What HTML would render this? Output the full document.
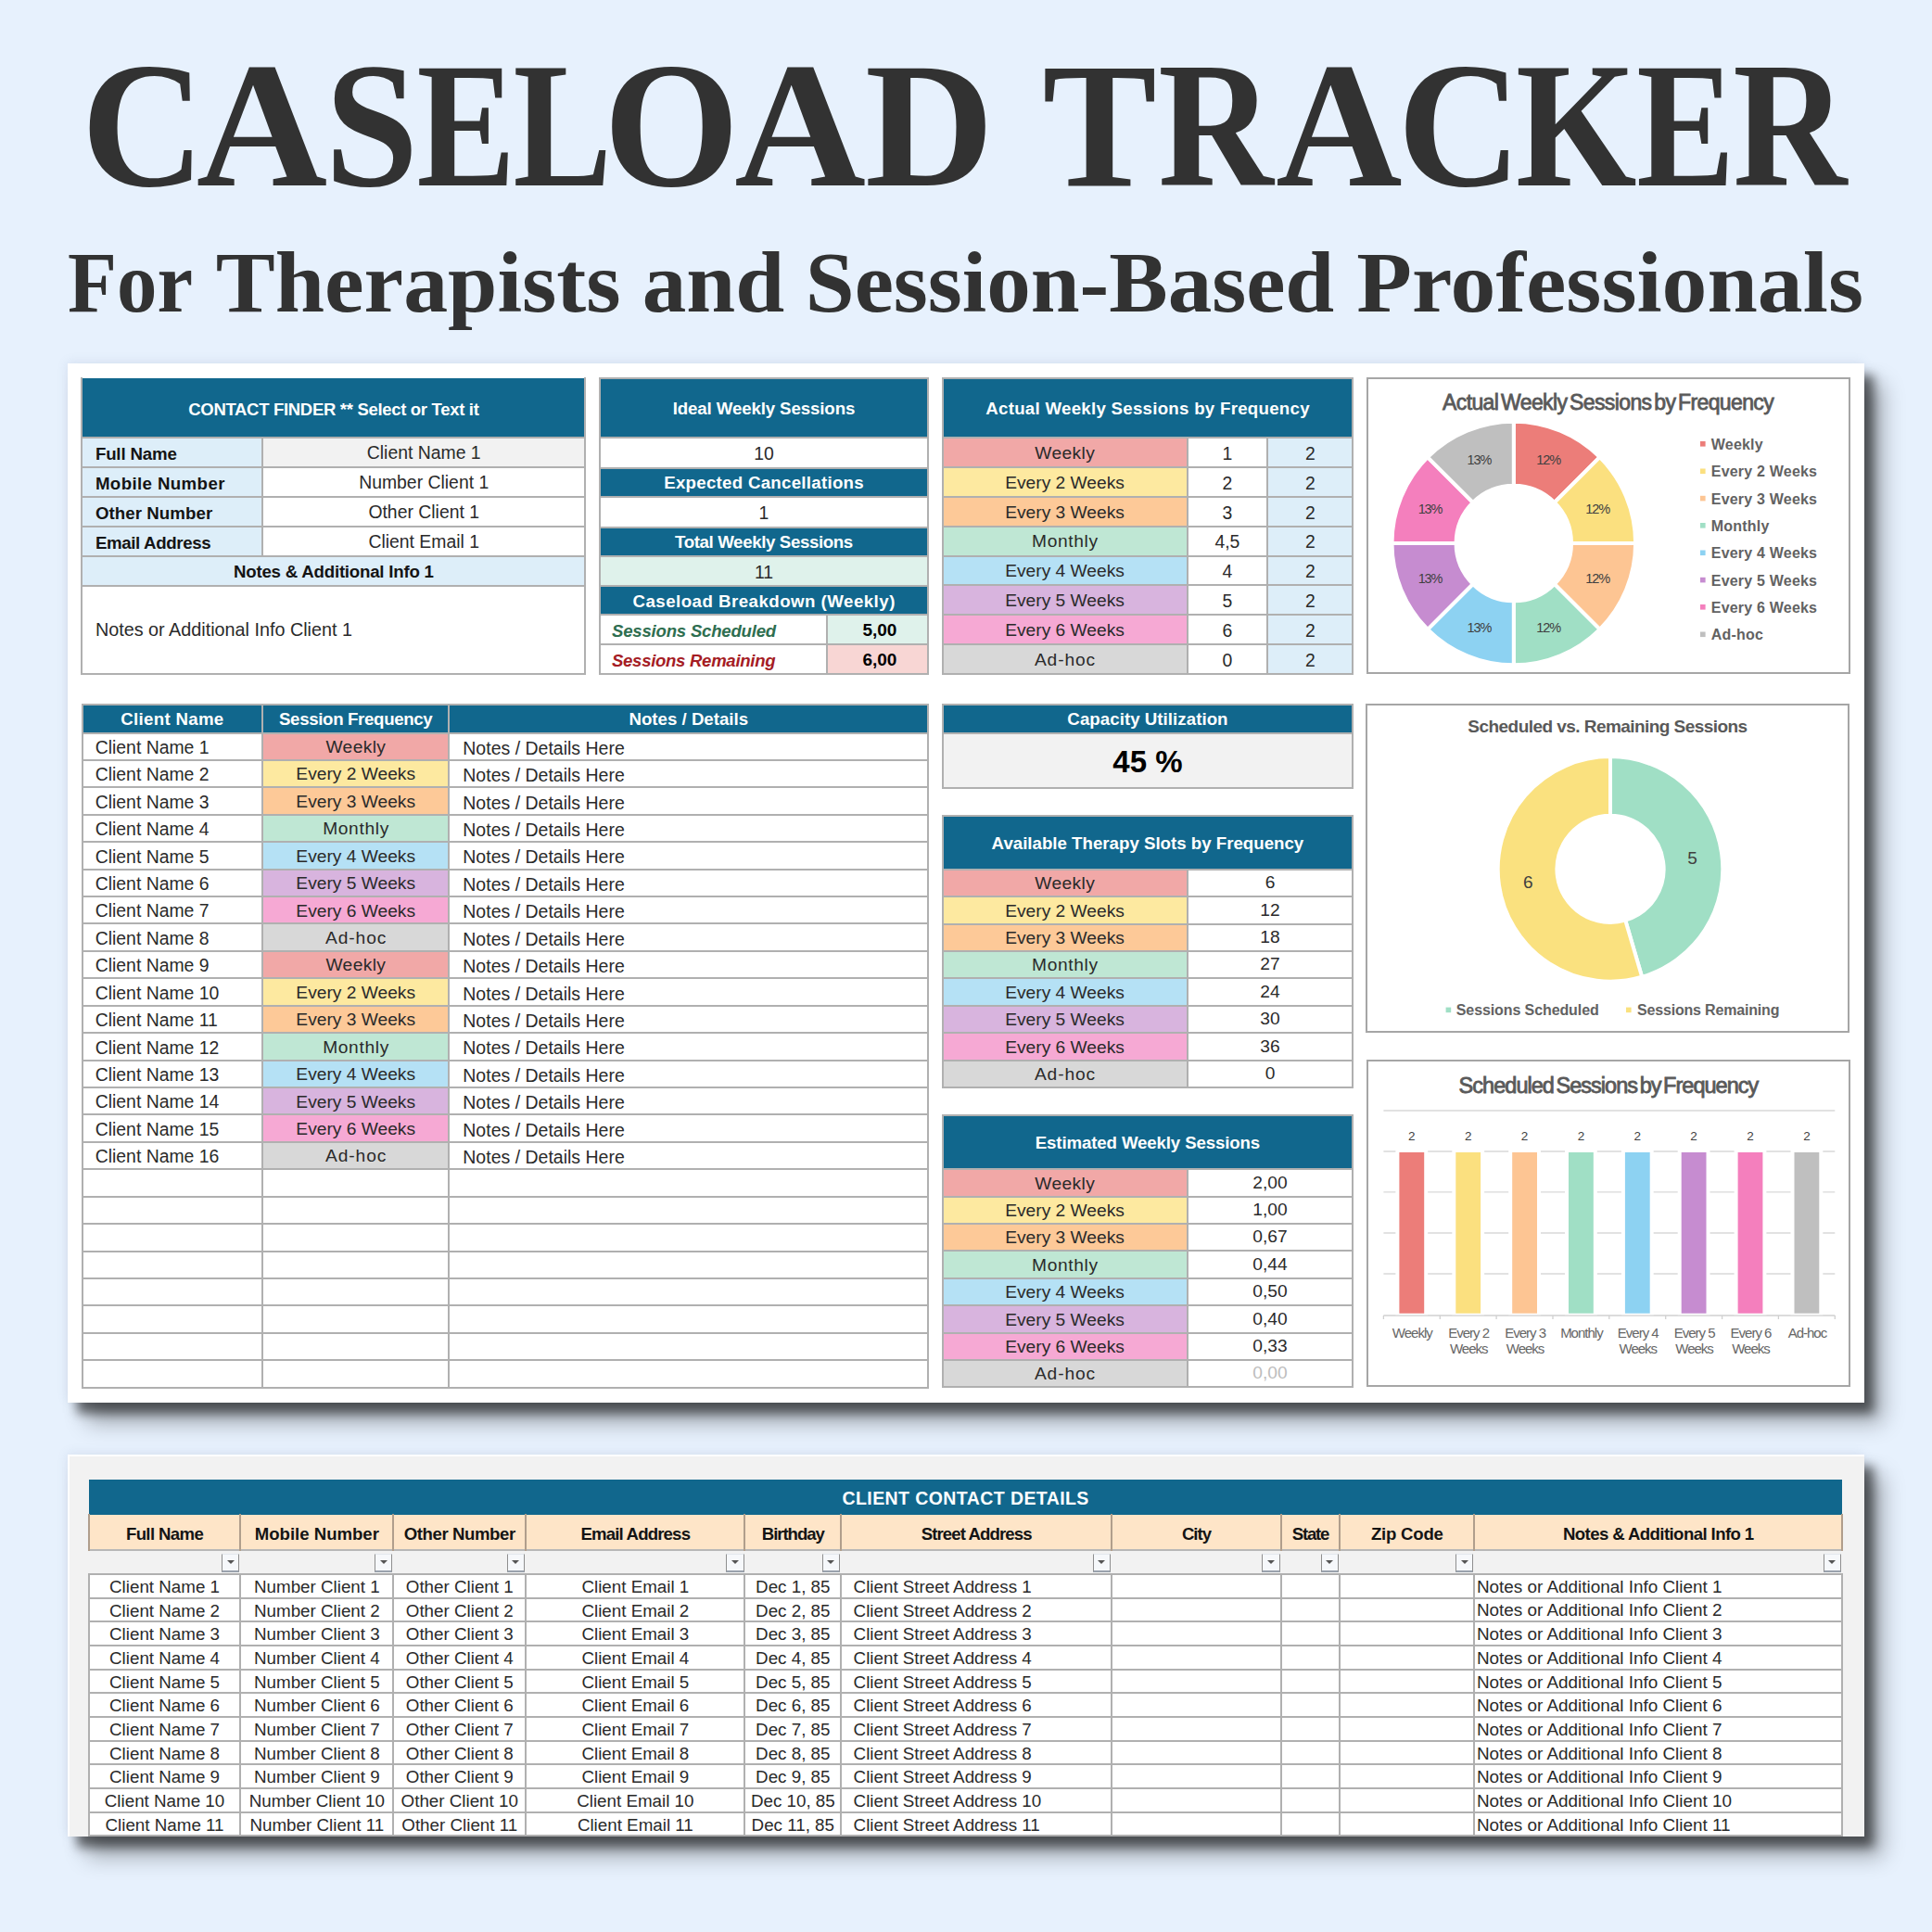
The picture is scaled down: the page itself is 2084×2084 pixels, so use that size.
<!DOCTYPE html><html><head><meta charset="utf-8"><style>
html,body{margin:0;padding:0;}
body{width:2084px;height:2084px;position:relative;overflow:hidden;background:#e7f1fd;font-family:"Liberation Sans", sans-serif;}
body div{position:absolute;box-sizing:border-box;}
.t{white-space:nowrap;overflow:visible;}
svg{position:absolute;left:0;top:0;}
</style></head><body>
<svg width="2084" height="380" style="left:0;top:0">
<g font-family="Liberation Serif, serif" font-weight="bold" fill="#323232">
<text transform="translate(87.69,200.2) scale(0.9581,1)" x="0" y="0" font-size="192">C</text>
<text transform="translate(211.86,200.2) scale(1.0199,1)" x="0" y="0" font-size="192">A</text>
<text transform="translate(350.38,200.2) scale(0.9434,1)" x="0" y="0" font-size="192">S</text>
<text transform="translate(449.56,200.2) scale(0.8312,1)" x="0" y="0" font-size="192">E</text>
<text transform="translate(553.46,200.2) scale(0.8312,1)" x="0" y="0" font-size="192">L</text>
<text transform="translate(650.99,200.2) scale(0.9801,1)" x="0" y="0" font-size="192">O</text>
<text transform="translate(792.36,200.2) scale(1.0222,1)" x="0" y="0" font-size="192">A</text>
<text transform="translate(932.89,200.2) scale(1.0032,1)" x="0" y="0" font-size="192">D</text>
<text transform="translate(1124.61,200.2) scale(0.9624,1)" x="0" y="0" font-size="192">T</text>
<text transform="translate(1249.14,200.2) scale(0.8971,1)" x="0" y="0" font-size="192">R</text>
<text transform="translate(1376.13,200.2) scale(0.9830,1)" x="0" y="0" font-size="192">A</text>
<text transform="translate(1507.46,200.2) scale(0.9616,1)" x="0" y="0" font-size="192">C</text>
<text transform="translate(1634.92,200.2) scale(0.8734,1)" x="0" y="0" font-size="192">K</text>
<text transform="translate(1765.27,200.2) scale(0.8268,1)" x="0" y="0" font-size="192">E</text>
<text transform="translate(1869.27,200.2) scale(0.8869,1)" x="0" y="0" font-size="192">R</text>
<text x="73.07" y="335.7" font-size="93" textLength="134.95" lengthAdjust="spacingAndGlyphs">For</text>
<text x="232.8" y="335.7" font-size="93" textLength="436.8" lengthAdjust="spacingAndGlyphs">Therapists</text>
<text x="692.78" y="335.7" font-size="93" textLength="153.45" lengthAdjust="spacingAndGlyphs">and</text>
<text x="868.8" y="335.7" font-size="93" textLength="570.41" lengthAdjust="spacingAndGlyphs">Session-Based</text>
<text x="1463.2" y="335.7" font-size="93" textLength="546.79" lengthAdjust="spacingAndGlyphs">Professionals</text>
</g></svg>
<div style="left:73.00px;top:392.00px;width:1938.00px;height:1121.00px;background:#ffffff;box-shadow: 10px 12.3px 11px rgba(0,0,0,0.54), 20px 22.4px 22px rgba(0,0,0,0.29), -1px -2px 10px rgba(110,120,160,0.12);"></div>
<div style="left:73.00px;top:1568.50px;width:1938.00px;height:412.50px;background:#f2f2f2;box-shadow: 10px 12.3px 11px rgba(0,0,0,0.54), 20px 22.4px 22px rgba(0,0,0,0.29), -1px -2px 10px rgba(110,120,160,0.12);border-top:2px solid #fff;border-left:2px solid #fff;"></div>
<div style="left:88.40px;top:408.00px;width:543.00px;height:64.40px;background:#11678d;"></div>
<div class="t" style="left:88.40px;top:428.75px;width:543.00px;height:25.90px;line-height:25.90px;font-size:18.5px;font-weight:bold;font-style:normal;color:#fff;text-align:center;padding-left:-0.312px;letter-spacing:-0.312px;font-family:"Liberation Sans", sans-serif;">CONTACT FINDER ** Select or Text it</div>
<div style="left:88.40px;top:472.40px;width:194.60px;height:31.60px;background:#ddeef9;"></div>
<div style="left:283.00px;top:472.40px;width:348.40px;height:31.60px;background:#f2f2f2;"></div>
<div class="t" style="left:88.40px;top:476.81px;width:194.60px;height:26.18px;line-height:26.18px;font-size:18.7px;font-weight:bold;font-style:normal;color:#141414;text-align:left;padding-left:14.5px;letter-spacing:-0.173px;font-family:"Liberation Sans", sans-serif;">Full Name</div>
<div class="t" style="left:283.00px;top:474.82px;width:348.40px;height:27.16px;line-height:27.16px;font-size:19.4px;font-weight:normal;font-style:normal;color:#2a2a2a;text-align:center;padding-left:0px;letter-spacing:0px;font-family:"Liberation Sans", sans-serif;">Client Name 1</div>
<div style="left:88.40px;top:504.00px;width:194.60px;height:32.30px;background:#ddeef9;"></div>
<div style="left:283.00px;top:504.00px;width:348.40px;height:32.30px;background:#ffffff;"></div>
<div class="t" style="left:88.40px;top:508.76px;width:194.60px;height:26.18px;line-height:26.18px;font-size:18.7px;font-weight:bold;font-style:normal;color:#141414;text-align:left;padding-left:14.5px;letter-spacing:0.383px;font-family:"Liberation Sans", sans-serif;">Mobile Number</div>
<div class="t" style="left:283.00px;top:506.77px;width:348.40px;height:27.16px;line-height:27.16px;font-size:19.4px;font-weight:normal;font-style:normal;color:#2a2a2a;text-align:center;padding-left:0px;letter-spacing:0px;font-family:"Liberation Sans", sans-serif;">Number Client 1</div>
<div style="left:88.40px;top:536.30px;width:194.60px;height:32.00px;background:#ddeef9;"></div>
<div style="left:283.00px;top:536.30px;width:348.40px;height:32.00px;background:#ffffff;"></div>
<div class="t" style="left:88.40px;top:540.91px;width:194.60px;height:26.18px;line-height:26.18px;font-size:18.7px;font-weight:bold;font-style:normal;color:#141414;text-align:left;padding-left:14.5px;letter-spacing:0.058px;font-family:"Liberation Sans", sans-serif;">Other Number</div>
<div class="t" style="left:283.00px;top:538.92px;width:348.40px;height:27.16px;line-height:27.16px;font-size:19.4px;font-weight:normal;font-style:normal;color:#2a2a2a;text-align:center;padding-left:0px;letter-spacing:0px;font-family:"Liberation Sans", sans-serif;">Other Client 1</div>
<div style="left:88.40px;top:568.30px;width:194.60px;height:31.70px;background:#ddeef9;"></div>
<div style="left:283.00px;top:568.30px;width:348.40px;height:31.70px;background:#ffffff;"></div>
<div class="t" style="left:88.40px;top:572.76px;width:194.60px;height:26.18px;line-height:26.18px;font-size:18.7px;font-weight:bold;font-style:normal;color:#141414;text-align:left;padding-left:14.5px;letter-spacing:-0.368px;font-family:"Liberation Sans", sans-serif;">Email Address</div>
<div class="t" style="left:283.00px;top:570.77px;width:348.40px;height:27.16px;line-height:27.16px;font-size:19.4px;font-weight:normal;font-style:normal;color:#2a2a2a;text-align:center;padding-left:0px;letter-spacing:0px;font-family:"Liberation Sans", sans-serif;">Client Email 1</div>
<div style="left:88.40px;top:600.00px;width:543.00px;height:31.80px;background:#ddeef9;"></div>
<div class="t" style="left:88.40px;top:604.01px;width:543.00px;height:26.18px;line-height:26.18px;font-size:18.7px;font-weight:bold;font-style:normal;color:#141414;text-align:center;padding-left:-0.229px;letter-spacing:-0.229px;font-family:"Liberation Sans", sans-serif;">Notes &amp; Additional Info 1</div>
<div style="left:88.40px;top:631.80px;width:543.00px;height:95.20px;background:#ffffff;"></div>
<div class="t" style="left:88.40px;top:666.34px;width:543.00px;height:27.72px;line-height:27.72px;font-size:19.8px;font-weight:normal;font-style:normal;color:#2a2a2a;text-align:left;padding-left:14.5px;letter-spacing:0px;font-family:"Liberation Sans", sans-serif;">Notes or Additional Info Client 1</div>
<div style="left:87px;top:471px;width:545px;height:2px;background:#b0b0b0"></div>
<div style="left:87px;top:503px;width:545px;height:2px;background:#b0b0b0"></div>
<div style="left:87px;top:535px;width:545px;height:2px;background:#b0b0b0"></div>
<div style="left:87px;top:567px;width:545px;height:2px;background:#b0b0b0"></div>
<div style="left:87px;top:599px;width:545px;height:2px;background:#b0b0b0"></div>
<div style="left:87px;top:631px;width:545px;height:2px;background:#b0b0b0"></div>
<div style="left:87px;top:726px;width:545px;height:2px;background:#b0b0b0"></div>
<div style="left:87px;top:407px;width:2px;height:321px;background:#b0b0b0"></div>
<div style="left:630px;top:407px;width:2px;height:321px;background:#b0b0b0"></div>
<div style="left:282px;top:471px;width:2px;height:130px;background:#b0b0b0"></div>
<div style="left:646.50px;top:408.00px;width:354.90px;height:64.40px;background:#11678d;"></div>
<div class="t" style="left:646.50px;top:428.31px;width:354.90px;height:26.18px;line-height:26.18px;font-size:18.7px;font-weight:bold;font-style:normal;color:#fff;text-align:center;padding-left:-0.122px;letter-spacing:-0.122px;font-family:"Liberation Sans", sans-serif;">Ideal Weekly Sessions</div>
<div style="left:646.50px;top:472.40px;width:354.90px;height:32.10px;background:#ffffff;"></div>
<div class="t" style="left:646.50px;top:476.07px;width:354.90px;height:27.16px;line-height:27.16px;font-size:19.4px;font-weight:normal;font-style:normal;color:#2a2a2a;text-align:center;padding-left:0px;letter-spacing:0px;font-family:"Liberation Sans", sans-serif;">10</div>
<div style="left:646.50px;top:504.50px;width:354.90px;height:31.20px;background:#11678d;"></div>
<div class="t" style="left:646.50px;top:508.21px;width:354.90px;height:26.18px;line-height:26.18px;font-size:18.7px;font-weight:bold;font-style:normal;color:#fff;text-align:center;padding-left:0.271px;letter-spacing:0.271px;font-family:"Liberation Sans", sans-serif;">Expected Cancellations</div>
<div style="left:646.50px;top:535.70px;width:354.90px;height:32.90px;background:#ffffff;"></div>
<div class="t" style="left:646.50px;top:539.77px;width:354.90px;height:27.16px;line-height:27.16px;font-size:19.4px;font-weight:normal;font-style:normal;color:#2a2a2a;text-align:center;padding-left:0px;letter-spacing:0px;font-family:"Liberation Sans", sans-serif;">1</div>
<div style="left:646.50px;top:568.60px;width:354.90px;height:31.40px;background:#11678d;"></div>
<div class="t" style="left:646.50px;top:572.41px;width:354.90px;height:26.18px;line-height:26.18px;font-size:18.7px;font-weight:bold;font-style:normal;color:#fff;text-align:center;padding-left:-0.375px;letter-spacing:-0.375px;font-family:"Liberation Sans", sans-serif;">Total Weekly Sessions</div>
<div style="left:646.50px;top:600.00px;width:354.90px;height:32.00px;background:#dff2eb;"></div>
<div class="t" style="left:646.50px;top:603.62px;width:354.90px;height:27.16px;line-height:27.16px;font-size:19.4px;font-weight:normal;font-style:normal;color:#2a2a2a;text-align:center;padding-left:0px;letter-spacing:0px;font-family:"Liberation Sans", sans-serif;">11</div>
<div style="left:646.50px;top:632.00px;width:354.90px;height:31.50px;background:#11678d;"></div>
<div class="t" style="left:646.50px;top:635.86px;width:354.90px;height:26.18px;line-height:26.18px;font-size:18.7px;font-weight:bold;font-style:normal;color:#fff;text-align:center;padding-left:0.467px;letter-spacing:0.467px;font-family:"Liberation Sans", sans-serif;">Caseload Breakdown (Weekly)</div>
<div style="left:646px;top:407px;width:356px;height:2px;background:#b0b0b0"></div>
<div style="left:646px;top:471px;width:356px;height:2px;background:#b0b0b0"></div>
<div style="left:646px;top:504px;width:356px;height:2px;background:#b0b0b0"></div>
<div style="left:646px;top:535px;width:356px;height:2px;background:#b0b0b0"></div>
<div style="left:646px;top:568px;width:356px;height:2px;background:#b0b0b0"></div>
<div style="left:646px;top:599px;width:356px;height:2px;background:#b0b0b0"></div>
<div style="left:646px;top:631px;width:356px;height:2px;background:#b0b0b0"></div>
<div style="left:646px;top:662px;width:356px;height:2px;background:#b0b0b0"></div>
<div style="left:646px;top:694px;width:356px;height:2px;background:#b0b0b0"></div>
<div style="left:646px;top:726px;width:356px;height:2px;background:#b0b0b0"></div>
<div style="left:646.50px;top:663.50px;width:245.90px;height:31.50px;background:#ffffff;"></div>
<div style="left:892.40px;top:663.50px;width:109.00px;height:31.50px;background:#dff2eb;"></div>
<div style="left:646.50px;top:695.00px;width:245.90px;height:32.00px;background:#ffffff;"></div>
<div style="left:892.40px;top:695.00px;width:109.00px;height:32.00px;background:#f8d6d4;"></div>
<div class="t" style="left:646.50px;top:667.68px;width:245.90px;height:26.04px;line-height:26.04px;font-size:18.6px;font-weight:bold;font-style:italic;color:#2e6e50;text-align:left;padding-left:13.5px;letter-spacing:-0.215px;font-family:"Liberation Sans", sans-serif;">Sessions Scheduled</div>
<div class="t" style="left:646.50px;top:699.68px;width:245.90px;height:26.04px;line-height:26.04px;font-size:18.6px;font-weight:bold;font-style:italic;color:#a51c24;text-align:left;padding-left:13.5px;letter-spacing:-0.312px;font-family:"Liberation Sans", sans-serif;">Sessions Remaining</div>
<div class="t" style="left:892.40px;top:667.40px;width:109.00px;height:26.60px;line-height:26.60px;font-size:19px;font-weight:bold;font-style:normal;color:#000;text-align:left;padding-left:38px;letter-spacing:0px;font-family:"Liberation Sans", sans-serif;">5,00</div>
<div class="t" style="left:892.40px;top:699.40px;width:109.00px;height:26.60px;line-height:26.60px;font-size:19px;font-weight:bold;font-style:normal;color:#000;text-align:left;padding-left:38px;letter-spacing:0px;font-family:"Liberation Sans", sans-serif;">6,00</div>
<div style="left:646px;top:407px;width:356px;height:2px;background:#b0b0b0"></div>
<div style="left:646px;top:471px;width:356px;height:2px;background:#b0b0b0"></div>
<div style="left:646px;top:504px;width:356px;height:2px;background:#b0b0b0"></div>
<div style="left:646px;top:535px;width:356px;height:2px;background:#b0b0b0"></div>
<div style="left:646px;top:568px;width:356px;height:2px;background:#b0b0b0"></div>
<div style="left:646px;top:599px;width:356px;height:2px;background:#b0b0b0"></div>
<div style="left:646px;top:631px;width:356px;height:2px;background:#b0b0b0"></div>
<div style="left:646px;top:662px;width:356px;height:2px;background:#b0b0b0"></div>
<div style="left:646px;top:694px;width:356px;height:2px;background:#b0b0b0"></div>
<div style="left:646px;top:726px;width:356px;height:2px;background:#b0b0b0"></div>
<div style="left:646px;top:407px;width:2px;height:321px;background:#b0b0b0"></div>
<div style="left:1000px;top:407px;width:2px;height:321px;background:#b0b0b0"></div>
<div style="left:891px;top:662px;width:2px;height:66px;background:#b0b0b0"></div>
<div style="left:1016.50px;top:408.00px;width:442.90px;height:64.30px;background:#11678d;"></div>
<div class="t" style="left:1016.50px;top:428.11px;width:442.90px;height:26.18px;line-height:26.18px;font-size:18.7px;font-weight:bold;font-style:normal;color:#fff;text-align:center;padding-left:0.264px;letter-spacing:0.264px;font-family:"Liberation Sans", sans-serif;">Actual Weekly Sessions by Frequency</div>
<div style="left:1016.50px;top:472.30px;width:264.10px;height:31.84px;background:#f1a8a7;"></div>
<div style="left:1280.60px;top:472.30px;width:86.60px;height:31.84px;background:#ffffff;"></div>
<div style="left:1367.20px;top:472.30px;width:92.20px;height:31.84px;background:#ddeef9;"></div>
<div class="t" style="left:1016.50px;top:475.98px;width:264.10px;height:26.88px;line-height:26.88px;font-size:19.2px;font-weight:normal;font-style:normal;color:#2a2a2a;text-align:center;padding-left:0.4px;letter-spacing:0.4px;font-family:"Liberation Sans", sans-serif;">Weekly</div>
<div class="t" style="left:1280.60px;top:475.84px;width:86.60px;height:27.16px;line-height:27.16px;font-size:19.4px;font-weight:normal;font-style:normal;color:#2a2a2a;text-align:center;padding-left:0px;letter-spacing:0px;font-family:"Liberation Sans", sans-serif;">1</div>
<div class="t" style="left:1367.20px;top:475.84px;width:92.20px;height:27.16px;line-height:27.16px;font-size:19.4px;font-weight:normal;font-style:normal;color:#2a2a2a;text-align:center;padding-left:0px;letter-spacing:0px;font-family:"Liberation Sans", sans-serif;">2</div>
<div style="left:1016.50px;top:504.14px;width:264.10px;height:31.84px;background:#fde9a0;"></div>
<div style="left:1280.60px;top:504.14px;width:86.60px;height:31.84px;background:#ffffff;"></div>
<div style="left:1367.20px;top:504.14px;width:92.20px;height:31.84px;background:#ddeef9;"></div>
<div class="t" style="left:1016.50px;top:507.82px;width:264.10px;height:26.88px;line-height:26.88px;font-size:19.2px;font-weight:normal;font-style:normal;color:#2a2a2a;text-align:center;padding-left:0px;letter-spacing:0px;font-family:"Liberation Sans", sans-serif;">Every 2 Weeks</div>
<div class="t" style="left:1280.60px;top:507.68px;width:86.60px;height:27.16px;line-height:27.16px;font-size:19.4px;font-weight:normal;font-style:normal;color:#2a2a2a;text-align:center;padding-left:0px;letter-spacing:0px;font-family:"Liberation Sans", sans-serif;">2</div>
<div class="t" style="left:1367.20px;top:507.68px;width:92.20px;height:27.16px;line-height:27.16px;font-size:19.4px;font-weight:normal;font-style:normal;color:#2a2a2a;text-align:center;padding-left:0px;letter-spacing:0px;font-family:"Liberation Sans", sans-serif;">2</div>
<div style="left:1016.50px;top:535.98px;width:264.10px;height:31.84px;background:#fdc998;"></div>
<div style="left:1280.60px;top:535.98px;width:86.60px;height:31.84px;background:#ffffff;"></div>
<div style="left:1367.20px;top:535.98px;width:92.20px;height:31.84px;background:#ddeef9;"></div>
<div class="t" style="left:1016.50px;top:539.65px;width:264.10px;height:26.88px;line-height:26.88px;font-size:19.2px;font-weight:normal;font-style:normal;color:#2a2a2a;text-align:center;padding-left:0px;letter-spacing:0px;font-family:"Liberation Sans", sans-serif;">Every 3 Weeks</div>
<div class="t" style="left:1280.60px;top:539.51px;width:86.60px;height:27.16px;line-height:27.16px;font-size:19.4px;font-weight:normal;font-style:normal;color:#2a2a2a;text-align:center;padding-left:0px;letter-spacing:0px;font-family:"Liberation Sans", sans-serif;">3</div>
<div class="t" style="left:1367.20px;top:539.51px;width:92.20px;height:27.16px;line-height:27.16px;font-size:19.4px;font-weight:normal;font-style:normal;color:#2a2a2a;text-align:center;padding-left:0px;letter-spacing:0px;font-family:"Liberation Sans", sans-serif;">2</div>
<div style="left:1016.50px;top:567.81px;width:264.10px;height:31.84px;background:#bfe7d4;"></div>
<div style="left:1280.60px;top:567.81px;width:86.60px;height:31.84px;background:#ffffff;"></div>
<div style="left:1367.20px;top:567.81px;width:92.20px;height:31.84px;background:#ddeef9;"></div>
<div class="t" style="left:1016.50px;top:571.49px;width:264.10px;height:26.88px;line-height:26.88px;font-size:19.2px;font-weight:normal;font-style:normal;color:#2a2a2a;text-align:center;padding-left:0.65px;letter-spacing:0.65px;font-family:"Liberation Sans", sans-serif;">Monthly</div>
<div class="t" style="left:1280.60px;top:571.35px;width:86.60px;height:27.16px;line-height:27.16px;font-size:19.4px;font-weight:normal;font-style:normal;color:#2a2a2a;text-align:center;padding-left:0px;letter-spacing:0px;font-family:"Liberation Sans", sans-serif;">4,5</div>
<div class="t" style="left:1367.20px;top:571.35px;width:92.20px;height:27.16px;line-height:27.16px;font-size:19.4px;font-weight:normal;font-style:normal;color:#2a2a2a;text-align:center;padding-left:0px;letter-spacing:0px;font-family:"Liberation Sans", sans-serif;">2</div>
<div style="left:1016.50px;top:599.65px;width:264.10px;height:31.84px;background:#b5e1f5;"></div>
<div style="left:1280.60px;top:599.65px;width:86.60px;height:31.84px;background:#ffffff;"></div>
<div style="left:1367.20px;top:599.65px;width:92.20px;height:31.84px;background:#ddeef9;"></div>
<div class="t" style="left:1016.50px;top:603.33px;width:264.10px;height:26.88px;line-height:26.88px;font-size:19.2px;font-weight:normal;font-style:normal;color:#2a2a2a;text-align:center;padding-left:0px;letter-spacing:0px;font-family:"Liberation Sans", sans-serif;">Every 4 Weeks</div>
<div class="t" style="left:1280.60px;top:603.19px;width:86.60px;height:27.16px;line-height:27.16px;font-size:19.4px;font-weight:normal;font-style:normal;color:#2a2a2a;text-align:center;padding-left:0px;letter-spacing:0px;font-family:"Liberation Sans", sans-serif;">4</div>
<div class="t" style="left:1367.20px;top:603.19px;width:92.20px;height:27.16px;line-height:27.16px;font-size:19.4px;font-weight:normal;font-style:normal;color:#2a2a2a;text-align:center;padding-left:0px;letter-spacing:0px;font-family:"Liberation Sans", sans-serif;">2</div>
<div style="left:1016.50px;top:631.49px;width:264.10px;height:31.84px;background:#d8b4de;"></div>
<div style="left:1280.60px;top:631.49px;width:86.60px;height:31.84px;background:#ffffff;"></div>
<div style="left:1367.20px;top:631.49px;width:92.20px;height:31.84px;background:#ddeef9;"></div>
<div class="t" style="left:1016.50px;top:635.17px;width:264.10px;height:26.88px;line-height:26.88px;font-size:19.2px;font-weight:normal;font-style:normal;color:#2a2a2a;text-align:center;padding-left:0px;letter-spacing:0px;font-family:"Liberation Sans", sans-serif;">Every 5 Weeks</div>
<div class="t" style="left:1280.60px;top:635.03px;width:86.60px;height:27.16px;line-height:27.16px;font-size:19.4px;font-weight:normal;font-style:normal;color:#2a2a2a;text-align:center;padding-left:0px;letter-spacing:0px;font-family:"Liberation Sans", sans-serif;">5</div>
<div class="t" style="left:1367.20px;top:635.03px;width:92.20px;height:27.16px;line-height:27.16px;font-size:19.4px;font-weight:normal;font-style:normal;color:#2a2a2a;text-align:center;padding-left:0px;letter-spacing:0px;font-family:"Liberation Sans", sans-serif;">2</div>
<div style="left:1016.50px;top:663.33px;width:264.10px;height:31.84px;background:#f6a9d4;"></div>
<div style="left:1280.60px;top:663.33px;width:86.60px;height:31.84px;background:#ffffff;"></div>
<div style="left:1367.20px;top:663.33px;width:92.20px;height:31.84px;background:#ddeef9;"></div>
<div class="t" style="left:1016.50px;top:667.00px;width:264.10px;height:26.88px;line-height:26.88px;font-size:19.2px;font-weight:normal;font-style:normal;color:#2a2a2a;text-align:center;padding-left:0px;letter-spacing:0px;font-family:"Liberation Sans", sans-serif;">Every 6 Weeks</div>
<div class="t" style="left:1280.60px;top:666.86px;width:86.60px;height:27.16px;line-height:27.16px;font-size:19.4px;font-weight:normal;font-style:normal;color:#2a2a2a;text-align:center;padding-left:0px;letter-spacing:0px;font-family:"Liberation Sans", sans-serif;">6</div>
<div class="t" style="left:1367.20px;top:666.86px;width:92.20px;height:27.16px;line-height:27.16px;font-size:19.4px;font-weight:normal;font-style:normal;color:#2a2a2a;text-align:center;padding-left:0px;letter-spacing:0px;font-family:"Liberation Sans", sans-serif;">2</div>
<div style="left:1016.50px;top:695.16px;width:264.10px;height:31.84px;background:#d8d8d8;"></div>
<div style="left:1280.60px;top:695.16px;width:86.60px;height:31.84px;background:#ffffff;"></div>
<div style="left:1367.20px;top:695.16px;width:92.20px;height:31.84px;background:#ddeef9;"></div>
<div class="t" style="left:1016.50px;top:698.84px;width:264.10px;height:26.88px;line-height:26.88px;font-size:19.2px;font-weight:normal;font-style:normal;color:#2a2a2a;text-align:center;padding-left:0.9px;letter-spacing:0.9px;font-family:"Liberation Sans", sans-serif;">Ad-hoc</div>
<div class="t" style="left:1280.60px;top:698.70px;width:86.60px;height:27.16px;line-height:27.16px;font-size:19.4px;font-weight:normal;font-style:normal;color:#2a2a2a;text-align:center;padding-left:0px;letter-spacing:0px;font-family:"Liberation Sans", sans-serif;">0</div>
<div class="t" style="left:1367.20px;top:698.70px;width:92.20px;height:27.16px;line-height:27.16px;font-size:19.4px;font-weight:normal;font-style:normal;color:#2a2a2a;text-align:center;padding-left:0px;letter-spacing:0px;font-family:"Liberation Sans", sans-serif;">2</div>
<div style="left:1016px;top:471px;width:444px;height:2px;background:#b0b0b0"></div>
<div style="left:1016px;top:503px;width:444px;height:2px;background:#b0b0b0"></div>
<div style="left:1016px;top:535px;width:444px;height:2px;background:#b0b0b0"></div>
<div style="left:1016px;top:567px;width:444px;height:2px;background:#b0b0b0"></div>
<div style="left:1016px;top:599px;width:444px;height:2px;background:#b0b0b0"></div>
<div style="left:1016px;top:630px;width:444px;height:2px;background:#b0b0b0"></div>
<div style="left:1016px;top:662px;width:444px;height:2px;background:#b0b0b0"></div>
<div style="left:1016px;top:694px;width:444px;height:2px;background:#b0b0b0"></div>
<div style="left:1016px;top:726px;width:444px;height:2px;background:#b0b0b0"></div>
<div style="left:1016px;top:407px;width:444px;height:2px;background:#b0b0b0"></div>
<div style="left:1016px;top:407px;width:2px;height:321px;background:#b0b0b0"></div>
<div style="left:1458px;top:407px;width:2px;height:321px;background:#b0b0b0"></div>
<div style="left:1280px;top:471px;width:2px;height:257px;background:#b0b0b0"></div>
<div style="left:1366px;top:471px;width:2px;height:257px;background:#b0b0b0"></div>
<div style="left:88.50px;top:759.70px;width:912.70px;height:30.80px;background:#11678d;"></div>
<div class="t" style="left:88.50px;top:763.11px;width:194.50px;height:26.18px;line-height:26.18px;font-size:18.7px;font-weight:bold;font-style:normal;color:#fff;text-align:center;padding-left:0.291px;letter-spacing:0.291px;font-family:"Liberation Sans", sans-serif;">Client Name</div>
<div class="t" style="left:283.00px;top:763.11px;width:201.40px;height:26.18px;line-height:26.18px;font-size:18.7px;font-weight:bold;font-style:normal;color:#fff;text-align:center;padding-left:-0.349px;letter-spacing:-0.349px;font-family:"Liberation Sans", sans-serif;">Session Frequency</div>
<div class="t" style="left:484.40px;top:763.11px;width:516.80px;height:26.18px;line-height:26.18px;font-size:18.7px;font-weight:bold;font-style:normal;color:#fff;text-align:center;padding-left:-0.01px;letter-spacing:-0.01px;font-family:"Liberation Sans", sans-serif;">Notes / Details</div>
<div style="left:88.50px;top:790.50px;width:912.70px;height:29.42px;background:#ffffff;"></div>
<div style="left:283.00px;top:790.50px;width:201.40px;height:29.42px;background:#f1a8a7;"></div>
<div class="t" style="left:88.50px;top:792.83px;width:194.50px;height:27.16px;line-height:27.16px;font-size:19.4px;font-weight:normal;font-style:normal;color:#2a2a2a;text-align:left;padding-left:14.2px;letter-spacing:0px;font-family:"Liberation Sans", sans-serif;">Client Name 1</div>
<div class="t" style="left:283.00px;top:792.97px;width:201.40px;height:26.88px;line-height:26.88px;font-size:19.2px;font-weight:normal;font-style:normal;color:#2a2a2a;text-align:center;padding-left:0.4px;letter-spacing:0.4px;font-family:"Liberation Sans", sans-serif;">Weekly</div>
<div class="t" style="left:484.40px;top:793.76px;width:516.80px;height:27.30px;line-height:27.30px;font-size:19.5px;font-weight:normal;font-style:normal;color:#2a2a2a;text-align:left;padding-left:14.9px;letter-spacing:0px;font-family:"Liberation Sans", sans-serif;">Notes / Details Here</div>
<div style="left:88.50px;top:819.92px;width:912.70px;height:29.42px;background:#ffffff;"></div>
<div style="left:283.00px;top:819.92px;width:201.40px;height:29.42px;background:#fde9a0;"></div>
<div class="t" style="left:88.50px;top:822.26px;width:194.50px;height:27.16px;line-height:27.16px;font-size:19.4px;font-weight:normal;font-style:normal;color:#2a2a2a;text-align:left;padding-left:14.2px;letter-spacing:0px;font-family:"Liberation Sans", sans-serif;">Client Name 2</div>
<div class="t" style="left:283.00px;top:822.40px;width:201.40px;height:26.88px;line-height:26.88px;font-size:19.2px;font-weight:normal;font-style:normal;color:#2a2a2a;text-align:center;padding-left:0px;letter-spacing:0px;font-family:"Liberation Sans", sans-serif;">Every 2 Weeks</div>
<div class="t" style="left:484.40px;top:823.19px;width:516.80px;height:27.30px;line-height:27.30px;font-size:19.5px;font-weight:normal;font-style:normal;color:#2a2a2a;text-align:left;padding-left:14.9px;letter-spacing:0px;font-family:"Liberation Sans", sans-serif;">Notes / Details Here</div>
<div style="left:88.50px;top:849.35px;width:912.70px;height:29.42px;background:#ffffff;"></div>
<div style="left:283.00px;top:849.35px;width:201.40px;height:29.42px;background:#fdc998;"></div>
<div class="t" style="left:88.50px;top:851.68px;width:194.50px;height:27.16px;line-height:27.16px;font-size:19.4px;font-weight:normal;font-style:normal;color:#2a2a2a;text-align:left;padding-left:14.2px;letter-spacing:0px;font-family:"Liberation Sans", sans-serif;">Client Name 3</div>
<div class="t" style="left:283.00px;top:851.82px;width:201.40px;height:26.88px;line-height:26.88px;font-size:19.2px;font-weight:normal;font-style:normal;color:#2a2a2a;text-align:center;padding-left:0px;letter-spacing:0px;font-family:"Liberation Sans", sans-serif;">Every 3 Weeks</div>
<div class="t" style="left:484.40px;top:852.61px;width:516.80px;height:27.30px;line-height:27.30px;font-size:19.5px;font-weight:normal;font-style:normal;color:#2a2a2a;text-align:left;padding-left:14.9px;letter-spacing:0px;font-family:"Liberation Sans", sans-serif;">Notes / Details Here</div>
<div style="left:88.50px;top:878.77px;width:912.70px;height:29.42px;background:#ffffff;"></div>
<div style="left:283.00px;top:878.77px;width:201.40px;height:29.42px;background:#bfe7d4;"></div>
<div class="t" style="left:88.50px;top:881.11px;width:194.50px;height:27.16px;line-height:27.16px;font-size:19.4px;font-weight:normal;font-style:normal;color:#2a2a2a;text-align:left;padding-left:14.2px;letter-spacing:0px;font-family:"Liberation Sans", sans-serif;">Client Name 4</div>
<div class="t" style="left:283.00px;top:881.25px;width:201.40px;height:26.88px;line-height:26.88px;font-size:19.2px;font-weight:normal;font-style:normal;color:#2a2a2a;text-align:center;padding-left:0.65px;letter-spacing:0.65px;font-family:"Liberation Sans", sans-serif;">Monthly</div>
<div class="t" style="left:484.40px;top:882.04px;width:516.80px;height:27.30px;line-height:27.30px;font-size:19.5px;font-weight:normal;font-style:normal;color:#2a2a2a;text-align:left;padding-left:14.9px;letter-spacing:0px;font-family:"Liberation Sans", sans-serif;">Notes / Details Here</div>
<div style="left:88.50px;top:908.20px;width:912.70px;height:29.42px;background:#ffffff;"></div>
<div style="left:283.00px;top:908.20px;width:201.40px;height:29.42px;background:#b5e1f5;"></div>
<div class="t" style="left:88.50px;top:910.53px;width:194.50px;height:27.16px;line-height:27.16px;font-size:19.4px;font-weight:normal;font-style:normal;color:#2a2a2a;text-align:left;padding-left:14.2px;letter-spacing:0px;font-family:"Liberation Sans", sans-serif;">Client Name 5</div>
<div class="t" style="left:283.00px;top:910.67px;width:201.40px;height:26.88px;line-height:26.88px;font-size:19.2px;font-weight:normal;font-style:normal;color:#2a2a2a;text-align:center;padding-left:0px;letter-spacing:0px;font-family:"Liberation Sans", sans-serif;">Every 4 Weeks</div>
<div class="t" style="left:484.40px;top:911.46px;width:516.80px;height:27.30px;line-height:27.30px;font-size:19.5px;font-weight:normal;font-style:normal;color:#2a2a2a;text-align:left;padding-left:14.9px;letter-spacing:0px;font-family:"Liberation Sans", sans-serif;">Notes / Details Here</div>
<div style="left:88.50px;top:937.62px;width:912.70px;height:29.42px;background:#ffffff;"></div>
<div style="left:283.00px;top:937.62px;width:201.40px;height:29.42px;background:#d8b4de;"></div>
<div class="t" style="left:88.50px;top:939.96px;width:194.50px;height:27.16px;line-height:27.16px;font-size:19.4px;font-weight:normal;font-style:normal;color:#2a2a2a;text-align:left;padding-left:14.2px;letter-spacing:0px;font-family:"Liberation Sans", sans-serif;">Client Name 6</div>
<div class="t" style="left:283.00px;top:940.10px;width:201.40px;height:26.88px;line-height:26.88px;font-size:19.2px;font-weight:normal;font-style:normal;color:#2a2a2a;text-align:center;padding-left:0px;letter-spacing:0px;font-family:"Liberation Sans", sans-serif;">Every 5 Weeks</div>
<div class="t" style="left:484.40px;top:940.89px;width:516.80px;height:27.30px;line-height:27.30px;font-size:19.5px;font-weight:normal;font-style:normal;color:#2a2a2a;text-align:left;padding-left:14.9px;letter-spacing:0px;font-family:"Liberation Sans", sans-serif;">Notes / Details Here</div>
<div style="left:88.50px;top:967.05px;width:912.70px;height:29.42px;background:#ffffff;"></div>
<div style="left:283.00px;top:967.05px;width:201.40px;height:29.42px;background:#f6a9d4;"></div>
<div class="t" style="left:88.50px;top:969.38px;width:194.50px;height:27.16px;line-height:27.16px;font-size:19.4px;font-weight:normal;font-style:normal;color:#2a2a2a;text-align:left;padding-left:14.2px;letter-spacing:0px;font-family:"Liberation Sans", sans-serif;">Client Name 7</div>
<div class="t" style="left:283.00px;top:969.52px;width:201.40px;height:26.88px;line-height:26.88px;font-size:19.2px;font-weight:normal;font-style:normal;color:#2a2a2a;text-align:center;padding-left:0px;letter-spacing:0px;font-family:"Liberation Sans", sans-serif;">Every 6 Weeks</div>
<div class="t" style="left:484.40px;top:970.31px;width:516.80px;height:27.30px;line-height:27.30px;font-size:19.5px;font-weight:normal;font-style:normal;color:#2a2a2a;text-align:left;padding-left:14.9px;letter-spacing:0px;font-family:"Liberation Sans", sans-serif;">Notes / Details Here</div>
<div style="left:88.50px;top:996.48px;width:912.70px;height:29.43px;background:#ffffff;"></div>
<div style="left:283.00px;top:996.48px;width:201.40px;height:29.43px;background:#d8d8d8;"></div>
<div class="t" style="left:88.50px;top:998.81px;width:194.50px;height:27.16px;line-height:27.16px;font-size:19.4px;font-weight:normal;font-style:normal;color:#2a2a2a;text-align:left;padding-left:14.2px;letter-spacing:0px;font-family:"Liberation Sans", sans-serif;">Client Name 8</div>
<div class="t" style="left:283.00px;top:998.95px;width:201.40px;height:26.88px;line-height:26.88px;font-size:19.2px;font-weight:normal;font-style:normal;color:#2a2a2a;text-align:center;padding-left:0.9px;letter-spacing:0.9px;font-family:"Liberation Sans", sans-serif;">Ad-hoc</div>
<div class="t" style="left:484.40px;top:999.74px;width:516.80px;height:27.30px;line-height:27.30px;font-size:19.5px;font-weight:normal;font-style:normal;color:#2a2a2a;text-align:left;padding-left:14.9px;letter-spacing:0px;font-family:"Liberation Sans", sans-serif;">Notes / Details Here</div>
<div style="left:88.50px;top:1025.90px;width:912.70px;height:29.42px;background:#ffffff;"></div>
<div style="left:283.00px;top:1025.90px;width:201.40px;height:29.42px;background:#f1a8a7;"></div>
<div class="t" style="left:88.50px;top:1028.23px;width:194.50px;height:27.16px;line-height:27.16px;font-size:19.4px;font-weight:normal;font-style:normal;color:#2a2a2a;text-align:left;padding-left:14.2px;letter-spacing:0px;font-family:"Liberation Sans", sans-serif;">Client Name 9</div>
<div class="t" style="left:283.00px;top:1028.37px;width:201.40px;height:26.88px;line-height:26.88px;font-size:19.2px;font-weight:normal;font-style:normal;color:#2a2a2a;text-align:center;padding-left:0.4px;letter-spacing:0.4px;font-family:"Liberation Sans", sans-serif;">Weekly</div>
<div class="t" style="left:484.40px;top:1029.16px;width:516.80px;height:27.30px;line-height:27.30px;font-size:19.5px;font-weight:normal;font-style:normal;color:#2a2a2a;text-align:left;padding-left:14.9px;letter-spacing:0px;font-family:"Liberation Sans", sans-serif;">Notes / Details Here</div>
<div style="left:88.50px;top:1055.33px;width:912.70px;height:29.42px;background:#ffffff;"></div>
<div style="left:283.00px;top:1055.33px;width:201.40px;height:29.42px;background:#fde9a0;"></div>
<div class="t" style="left:88.50px;top:1057.66px;width:194.50px;height:27.16px;line-height:27.16px;font-size:19.4px;font-weight:normal;font-style:normal;color:#2a2a2a;text-align:left;padding-left:14.2px;letter-spacing:0px;font-family:"Liberation Sans", sans-serif;">Client Name 10</div>
<div class="t" style="left:283.00px;top:1057.80px;width:201.40px;height:26.88px;line-height:26.88px;font-size:19.2px;font-weight:normal;font-style:normal;color:#2a2a2a;text-align:center;padding-left:0px;letter-spacing:0px;font-family:"Liberation Sans", sans-serif;">Every 2 Weeks</div>
<div class="t" style="left:484.40px;top:1058.59px;width:516.80px;height:27.30px;line-height:27.30px;font-size:19.5px;font-weight:normal;font-style:normal;color:#2a2a2a;text-align:left;padding-left:14.9px;letter-spacing:0px;font-family:"Liberation Sans", sans-serif;">Notes / Details Here</div>
<div style="left:88.50px;top:1084.75px;width:912.70px;height:29.42px;background:#ffffff;"></div>
<div style="left:283.00px;top:1084.75px;width:201.40px;height:29.42px;background:#fdc998;"></div>
<div class="t" style="left:88.50px;top:1087.08px;width:194.50px;height:27.16px;line-height:27.16px;font-size:19.4px;font-weight:normal;font-style:normal;color:#2a2a2a;text-align:left;padding-left:14.2px;letter-spacing:0px;font-family:"Liberation Sans", sans-serif;">Client Name 11</div>
<div class="t" style="left:283.00px;top:1087.22px;width:201.40px;height:26.88px;line-height:26.88px;font-size:19.2px;font-weight:normal;font-style:normal;color:#2a2a2a;text-align:center;padding-left:0px;letter-spacing:0px;font-family:"Liberation Sans", sans-serif;">Every 3 Weeks</div>
<div class="t" style="left:484.40px;top:1088.01px;width:516.80px;height:27.30px;line-height:27.30px;font-size:19.5px;font-weight:normal;font-style:normal;color:#2a2a2a;text-align:left;padding-left:14.9px;letter-spacing:0px;font-family:"Liberation Sans", sans-serif;">Notes / Details Here</div>
<div style="left:88.50px;top:1114.17px;width:912.70px;height:29.42px;background:#ffffff;"></div>
<div style="left:283.00px;top:1114.17px;width:201.40px;height:29.42px;background:#bfe7d4;"></div>
<div class="t" style="left:88.50px;top:1116.51px;width:194.50px;height:27.16px;line-height:27.16px;font-size:19.4px;font-weight:normal;font-style:normal;color:#2a2a2a;text-align:left;padding-left:14.2px;letter-spacing:0px;font-family:"Liberation Sans", sans-serif;">Client Name 12</div>
<div class="t" style="left:283.00px;top:1116.65px;width:201.40px;height:26.88px;line-height:26.88px;font-size:19.2px;font-weight:normal;font-style:normal;color:#2a2a2a;text-align:center;padding-left:0.65px;letter-spacing:0.65px;font-family:"Liberation Sans", sans-serif;">Monthly</div>
<div class="t" style="left:484.40px;top:1117.44px;width:516.80px;height:27.30px;line-height:27.30px;font-size:19.5px;font-weight:normal;font-style:normal;color:#2a2a2a;text-align:left;padding-left:14.9px;letter-spacing:0px;font-family:"Liberation Sans", sans-serif;">Notes / Details Here</div>
<div style="left:88.50px;top:1143.60px;width:912.70px;height:29.42px;background:#ffffff;"></div>
<div style="left:283.00px;top:1143.60px;width:201.40px;height:29.42px;background:#b5e1f5;"></div>
<div class="t" style="left:88.50px;top:1145.93px;width:194.50px;height:27.16px;line-height:27.16px;font-size:19.4px;font-weight:normal;font-style:normal;color:#2a2a2a;text-align:left;padding-left:14.2px;letter-spacing:0px;font-family:"Liberation Sans", sans-serif;">Client Name 13</div>
<div class="t" style="left:283.00px;top:1146.07px;width:201.40px;height:26.88px;line-height:26.88px;font-size:19.2px;font-weight:normal;font-style:normal;color:#2a2a2a;text-align:center;padding-left:0px;letter-spacing:0px;font-family:"Liberation Sans", sans-serif;">Every 4 Weeks</div>
<div class="t" style="left:484.40px;top:1146.86px;width:516.80px;height:27.30px;line-height:27.30px;font-size:19.5px;font-weight:normal;font-style:normal;color:#2a2a2a;text-align:left;padding-left:14.9px;letter-spacing:0px;font-family:"Liberation Sans", sans-serif;">Notes / Details Here</div>
<div style="left:88.50px;top:1173.03px;width:912.70px;height:29.42px;background:#ffffff;"></div>
<div style="left:283.00px;top:1173.03px;width:201.40px;height:29.42px;background:#d8b4de;"></div>
<div class="t" style="left:88.50px;top:1175.36px;width:194.50px;height:27.16px;line-height:27.16px;font-size:19.4px;font-weight:normal;font-style:normal;color:#2a2a2a;text-align:left;padding-left:14.2px;letter-spacing:0px;font-family:"Liberation Sans", sans-serif;">Client Name 14</div>
<div class="t" style="left:283.00px;top:1175.50px;width:201.40px;height:26.88px;line-height:26.88px;font-size:19.2px;font-weight:normal;font-style:normal;color:#2a2a2a;text-align:center;padding-left:0px;letter-spacing:0px;font-family:"Liberation Sans", sans-serif;">Every 5 Weeks</div>
<div class="t" style="left:484.40px;top:1176.29px;width:516.80px;height:27.30px;line-height:27.30px;font-size:19.5px;font-weight:normal;font-style:normal;color:#2a2a2a;text-align:left;padding-left:14.9px;letter-spacing:0px;font-family:"Liberation Sans", sans-serif;">Notes / Details Here</div>
<div style="left:88.50px;top:1202.45px;width:912.70px;height:29.42px;background:#ffffff;"></div>
<div style="left:283.00px;top:1202.45px;width:201.40px;height:29.42px;background:#f6a9d4;"></div>
<div class="t" style="left:88.50px;top:1204.78px;width:194.50px;height:27.16px;line-height:27.16px;font-size:19.4px;font-weight:normal;font-style:normal;color:#2a2a2a;text-align:left;padding-left:14.2px;letter-spacing:0px;font-family:"Liberation Sans", sans-serif;">Client Name 15</div>
<div class="t" style="left:283.00px;top:1204.92px;width:201.40px;height:26.88px;line-height:26.88px;font-size:19.2px;font-weight:normal;font-style:normal;color:#2a2a2a;text-align:center;padding-left:0px;letter-spacing:0px;font-family:"Liberation Sans", sans-serif;">Every 6 Weeks</div>
<div class="t" style="left:484.40px;top:1205.71px;width:516.80px;height:27.30px;line-height:27.30px;font-size:19.5px;font-weight:normal;font-style:normal;color:#2a2a2a;text-align:left;padding-left:14.9px;letter-spacing:0px;font-family:"Liberation Sans", sans-serif;">Notes / Details Here</div>
<div style="left:88.50px;top:1231.88px;width:912.70px;height:29.42px;background:#ffffff;"></div>
<div style="left:283.00px;top:1231.88px;width:201.40px;height:29.42px;background:#d8d8d8;"></div>
<div class="t" style="left:88.50px;top:1234.21px;width:194.50px;height:27.16px;line-height:27.16px;font-size:19.4px;font-weight:normal;font-style:normal;color:#2a2a2a;text-align:left;padding-left:14.2px;letter-spacing:0px;font-family:"Liberation Sans", sans-serif;">Client Name 16</div>
<div class="t" style="left:283.00px;top:1234.35px;width:201.40px;height:26.88px;line-height:26.88px;font-size:19.2px;font-weight:normal;font-style:normal;color:#2a2a2a;text-align:center;padding-left:0.9px;letter-spacing:0.9px;font-family:"Liberation Sans", sans-serif;">Ad-hoc</div>
<div class="t" style="left:484.40px;top:1235.14px;width:516.80px;height:27.30px;line-height:27.30px;font-size:19.5px;font-weight:normal;font-style:normal;color:#2a2a2a;text-align:left;padding-left:14.9px;letter-spacing:0px;font-family:"Liberation Sans", sans-serif;">Notes / Details Here</div>
<div style="left:88.50px;top:1261.30px;width:912.70px;height:29.42px;background:#ffffff;"></div>
<div style="left:88.50px;top:1290.72px;width:912.70px;height:29.42px;background:#ffffff;"></div>
<div style="left:88.50px;top:1320.15px;width:912.70px;height:29.42px;background:#ffffff;"></div>
<div style="left:88.50px;top:1349.58px;width:912.70px;height:29.42px;background:#ffffff;"></div>
<div style="left:88.50px;top:1379.00px;width:912.70px;height:29.42px;background:#ffffff;"></div>
<div style="left:88.50px;top:1408.43px;width:912.70px;height:29.42px;background:#ffffff;"></div>
<div style="left:88.50px;top:1437.85px;width:912.70px;height:29.42px;background:#ffffff;"></div>
<div style="left:88.50px;top:1467.28px;width:912.70px;height:29.42px;background:#ffffff;"></div>
<div style="left:88px;top:790px;width:914px;height:2px;background:#b0b0b0"></div>
<div style="left:88px;top:819px;width:914px;height:2px;background:#b0b0b0"></div>
<div style="left:88px;top:848px;width:914px;height:2px;background:#b0b0b0"></div>
<div style="left:88px;top:878px;width:914px;height:2px;background:#b0b0b0"></div>
<div style="left:88px;top:907px;width:914px;height:2px;background:#b0b0b0"></div>
<div style="left:88px;top:937px;width:914px;height:2px;background:#b0b0b0"></div>
<div style="left:88px;top:966px;width:914px;height:2px;background:#b0b0b0"></div>
<div style="left:88px;top:995px;width:914px;height:2px;background:#b0b0b0"></div>
<div style="left:88px;top:1025px;width:914px;height:2px;background:#b0b0b0"></div>
<div style="left:88px;top:1054px;width:914px;height:2px;background:#b0b0b0"></div>
<div style="left:88px;top:1084px;width:914px;height:2px;background:#b0b0b0"></div>
<div style="left:88px;top:1113px;width:914px;height:2px;background:#b0b0b0"></div>
<div style="left:88px;top:1143px;width:914px;height:2px;background:#b0b0b0"></div>
<div style="left:88px;top:1172px;width:914px;height:2px;background:#b0b0b0"></div>
<div style="left:88px;top:1201px;width:914px;height:2px;background:#b0b0b0"></div>
<div style="left:88px;top:1231px;width:914px;height:2px;background:#b0b0b0"></div>
<div style="left:88px;top:1260px;width:914px;height:2px;background:#b0b0b0"></div>
<div style="left:88px;top:1290px;width:914px;height:2px;background:#b0b0b0"></div>
<div style="left:88px;top:1319px;width:914px;height:2px;background:#b0b0b0"></div>
<div style="left:88px;top:1349px;width:914px;height:2px;background:#b0b0b0"></div>
<div style="left:88px;top:1378px;width:914px;height:2px;background:#b0b0b0"></div>
<div style="left:88px;top:1407px;width:914px;height:2px;background:#b0b0b0"></div>
<div style="left:88px;top:1437px;width:914px;height:2px;background:#b0b0b0"></div>
<div style="left:88px;top:1466px;width:914px;height:2px;background:#b0b0b0"></div>
<div style="left:88px;top:1496px;width:914px;height:2px;background:#b0b0b0"></div>
<div style="left:88px;top:759px;width:914px;height:2px;background:#b0b0b0"></div>
<div style="left:88px;top:759px;width:2px;height:739px;background:#b0b0b0"></div>
<div style="left:282px;top:759px;width:2px;height:739px;background:#b0b0b0"></div>
<div style="left:483px;top:759px;width:2px;height:739px;background:#b0b0b0"></div>
<div style="left:1000px;top:759px;width:2px;height:739px;background:#b0b0b0"></div>
<div style="left:1016.50px;top:759.70px;width:442.90px;height:30.80px;background:#11678d;"></div>
<div class="t" style="left:1016.50px;top:763.11px;width:442.90px;height:26.18px;line-height:26.18px;font-size:18.7px;font-weight:bold;font-style:normal;color:#fff;text-align:center;padding-left:0.042px;letter-spacing:0.042px;font-family:"Liberation Sans", sans-serif;">Capacity Utilization</div>
<div style="left:1016.50px;top:790.50px;width:442.90px;height:59.70px;background:#f2f2f2;"></div>
<div class="t" style="left:1016.50px;top:799.10px;width:442.90px;height:46.20px;line-height:46.20px;font-size:33px;font-weight:bold;font-style:normal;color:#000;text-align:center;padding-left:0px;letter-spacing:0px;font-family:"Liberation Sans", sans-serif;">45 %</div>
<div style="left:1016px;top:759px;width:444px;height:2px;background:#b0b0b0"></div>
<div style="left:1016px;top:790px;width:444px;height:2px;background:#b0b0b0"></div>
<div style="left:1016px;top:849px;width:444px;height:2px;background:#b0b0b0"></div>
<div style="left:1016px;top:759px;width:2px;height:92px;background:#b0b0b0"></div>
<div style="left:1458px;top:759px;width:2px;height:92px;background:#b0b0b0"></div>
<div style="left:1016.50px;top:880.00px;width:442.90px;height:57.80px;background:#11678d;"></div>
<div class="t" style="left:1016.50px;top:897.01px;width:442.90px;height:26.18px;line-height:26.18px;font-size:18.7px;font-weight:bold;font-style:normal;color:#fff;text-align:center;padding-left:-0.005px;letter-spacing:-0.005px;font-family:"Liberation Sans", sans-serif;">Available Therapy Slots by Frequency</div>
<div style="left:1016.50px;top:937.80px;width:264.10px;height:29.40px;background:#f1a8a7;"></div>
<div style="left:1280.60px;top:937.80px;width:178.80px;height:29.40px;background:#ffffff;"></div>
<div class="t" style="left:1016.50px;top:940.26px;width:264.10px;height:26.88px;line-height:26.88px;font-size:19.2px;font-weight:normal;font-style:normal;color:#2a2a2a;text-align:center;padding-left:0.4px;letter-spacing:0.4px;font-family:"Liberation Sans", sans-serif;">Weekly</div>
<div class="t" style="left:1280.60px;top:939.26px;width:178.80px;height:26.88px;line-height:26.88px;font-size:19.2px;font-weight:normal;font-style:normal;color:#2a2a2a;text-align:center;padding-left:0px;letter-spacing:0px;font-family:"Liberation Sans", sans-serif;">6</div>
<div style="left:1016.50px;top:967.20px;width:264.10px;height:29.40px;background:#fde9a0;"></div>
<div style="left:1280.60px;top:967.20px;width:178.80px;height:29.40px;background:#ffffff;"></div>
<div class="t" style="left:1016.50px;top:969.66px;width:264.10px;height:26.88px;line-height:26.88px;font-size:19.2px;font-weight:normal;font-style:normal;color:#2a2a2a;text-align:center;padding-left:0px;letter-spacing:0px;font-family:"Liberation Sans", sans-serif;">Every 2 Weeks</div>
<div class="t" style="left:1280.60px;top:968.66px;width:178.80px;height:26.88px;line-height:26.88px;font-size:19.2px;font-weight:normal;font-style:normal;color:#2a2a2a;text-align:center;padding-left:0px;letter-spacing:0px;font-family:"Liberation Sans", sans-serif;">12</div>
<div style="left:1016.50px;top:996.60px;width:264.10px;height:29.40px;background:#fdc998;"></div>
<div style="left:1280.60px;top:996.60px;width:178.80px;height:29.40px;background:#ffffff;"></div>
<div class="t" style="left:1016.50px;top:999.06px;width:264.10px;height:26.88px;line-height:26.88px;font-size:19.2px;font-weight:normal;font-style:normal;color:#2a2a2a;text-align:center;padding-left:0px;letter-spacing:0px;font-family:"Liberation Sans", sans-serif;">Every 3 Weeks</div>
<div class="t" style="left:1280.60px;top:998.06px;width:178.80px;height:26.88px;line-height:26.88px;font-size:19.2px;font-weight:normal;font-style:normal;color:#2a2a2a;text-align:center;padding-left:0px;letter-spacing:0px;font-family:"Liberation Sans", sans-serif;">18</div>
<div style="left:1016.50px;top:1026.00px;width:264.10px;height:29.40px;background:#bfe7d4;"></div>
<div style="left:1280.60px;top:1026.00px;width:178.80px;height:29.40px;background:#ffffff;"></div>
<div class="t" style="left:1016.50px;top:1028.46px;width:264.10px;height:26.88px;line-height:26.88px;font-size:19.2px;font-weight:normal;font-style:normal;color:#2a2a2a;text-align:center;padding-left:0.65px;letter-spacing:0.65px;font-family:"Liberation Sans", sans-serif;">Monthly</div>
<div class="t" style="left:1280.60px;top:1027.46px;width:178.80px;height:26.88px;line-height:26.88px;font-size:19.2px;font-weight:normal;font-style:normal;color:#2a2a2a;text-align:center;padding-left:0px;letter-spacing:0px;font-family:"Liberation Sans", sans-serif;">27</div>
<div style="left:1016.50px;top:1055.40px;width:264.10px;height:29.40px;background:#b5e1f5;"></div>
<div style="left:1280.60px;top:1055.40px;width:178.80px;height:29.40px;background:#ffffff;"></div>
<div class="t" style="left:1016.50px;top:1057.86px;width:264.10px;height:26.88px;line-height:26.88px;font-size:19.2px;font-weight:normal;font-style:normal;color:#2a2a2a;text-align:center;padding-left:0px;letter-spacing:0px;font-family:"Liberation Sans", sans-serif;">Every 4 Weeks</div>
<div class="t" style="left:1280.60px;top:1056.86px;width:178.80px;height:26.88px;line-height:26.88px;font-size:19.2px;font-weight:normal;font-style:normal;color:#2a2a2a;text-align:center;padding-left:0px;letter-spacing:0px;font-family:"Liberation Sans", sans-serif;">24</div>
<div style="left:1016.50px;top:1084.80px;width:264.10px;height:29.40px;background:#d8b4de;"></div>
<div style="left:1280.60px;top:1084.80px;width:178.80px;height:29.40px;background:#ffffff;"></div>
<div class="t" style="left:1016.50px;top:1087.26px;width:264.10px;height:26.88px;line-height:26.88px;font-size:19.2px;font-weight:normal;font-style:normal;color:#2a2a2a;text-align:center;padding-left:0px;letter-spacing:0px;font-family:"Liberation Sans", sans-serif;">Every 5 Weeks</div>
<div class="t" style="left:1280.60px;top:1086.26px;width:178.80px;height:26.88px;line-height:26.88px;font-size:19.2px;font-weight:normal;font-style:normal;color:#2a2a2a;text-align:center;padding-left:0px;letter-spacing:0px;font-family:"Liberation Sans", sans-serif;">30</div>
<div style="left:1016.50px;top:1114.20px;width:264.10px;height:29.40px;background:#f6a9d4;"></div>
<div style="left:1280.60px;top:1114.20px;width:178.80px;height:29.40px;background:#ffffff;"></div>
<div class="t" style="left:1016.50px;top:1116.66px;width:264.10px;height:26.88px;line-height:26.88px;font-size:19.2px;font-weight:normal;font-style:normal;color:#2a2a2a;text-align:center;padding-left:0px;letter-spacing:0px;font-family:"Liberation Sans", sans-serif;">Every 6 Weeks</div>
<div class="t" style="left:1280.60px;top:1115.66px;width:178.80px;height:26.88px;line-height:26.88px;font-size:19.2px;font-weight:normal;font-style:normal;color:#2a2a2a;text-align:center;padding-left:0px;letter-spacing:0px;font-family:"Liberation Sans", sans-serif;">36</div>
<div style="left:1016.50px;top:1143.60px;width:264.10px;height:29.40px;background:#d8d8d8;"></div>
<div style="left:1280.60px;top:1143.60px;width:178.80px;height:29.40px;background:#ffffff;"></div>
<div class="t" style="left:1016.50px;top:1146.06px;width:264.10px;height:26.88px;line-height:26.88px;font-size:19.2px;font-weight:normal;font-style:normal;color:#2a2a2a;text-align:center;padding-left:0.9px;letter-spacing:0.9px;font-family:"Liberation Sans", sans-serif;">Ad-hoc</div>
<div class="t" style="left:1280.60px;top:1145.06px;width:178.80px;height:26.88px;line-height:26.88px;font-size:19.2px;font-weight:normal;font-style:normal;color:#2a2a2a;text-align:center;padding-left:0px;letter-spacing:0px;font-family:"Liberation Sans", sans-serif;">0</div>
<div style="left:1016px;top:937px;width:444px;height:2px;background:#b0b0b0"></div>
<div style="left:1016px;top:966px;width:444px;height:2px;background:#b0b0b0"></div>
<div style="left:1016px;top:996px;width:444px;height:2px;background:#b0b0b0"></div>
<div style="left:1016px;top:1025px;width:444px;height:2px;background:#b0b0b0"></div>
<div style="left:1016px;top:1054px;width:444px;height:2px;background:#b0b0b0"></div>
<div style="left:1016px;top:1084px;width:444px;height:2px;background:#b0b0b0"></div>
<div style="left:1016px;top:1113px;width:444px;height:2px;background:#b0b0b0"></div>
<div style="left:1016px;top:1143px;width:444px;height:2px;background:#b0b0b0"></div>
<div style="left:1016px;top:1172px;width:444px;height:2px;background:#b0b0b0"></div>
<div style="left:1016px;top:879px;width:444px;height:2px;background:#b0b0b0"></div>
<div style="left:1016px;top:879px;width:2px;height:295px;background:#b0b0b0"></div>
<div style="left:1458px;top:879px;width:2px;height:295px;background:#b0b0b0"></div>
<div style="left:1280px;top:937px;width:2px;height:237px;background:#b0b0b0"></div>
<div style="left:1016.50px;top:1203.20px;width:442.90px;height:58.00px;background:#11678d;"></div>
<div class="t" style="left:1016.50px;top:1220.31px;width:442.90px;height:26.18px;line-height:26.18px;font-size:18.7px;font-weight:bold;font-style:normal;color:#fff;text-align:center;padding-left:-0.142px;letter-spacing:-0.142px;font-family:"Liberation Sans", sans-serif;">Estimated Weekly Sessions</div>
<div style="left:1016.50px;top:1261.20px;width:264.10px;height:29.40px;background:#f1a8a7;"></div>
<div style="left:1280.60px;top:1261.20px;width:178.80px;height:29.40px;background:#ffffff;"></div>
<div class="t" style="left:1016.50px;top:1263.66px;width:264.10px;height:26.88px;line-height:26.88px;font-size:19.2px;font-weight:normal;font-style:normal;color:#2a2a2a;text-align:center;padding-left:0.4px;letter-spacing:0.4px;font-family:"Liberation Sans", sans-serif;">Weekly</div>
<div class="t" style="left:1280.60px;top:1262.66px;width:178.80px;height:26.88px;line-height:26.88px;font-size:19.2px;font-weight:normal;font-style:normal;color:#2a2a2a;text-align:center;padding-left:0px;letter-spacing:0px;font-family:"Liberation Sans", sans-serif;">2,00</div>
<div style="left:1016.50px;top:1290.60px;width:264.10px;height:29.40px;background:#fde9a0;"></div>
<div style="left:1280.60px;top:1290.60px;width:178.80px;height:29.40px;background:#ffffff;"></div>
<div class="t" style="left:1016.50px;top:1293.06px;width:264.10px;height:26.88px;line-height:26.88px;font-size:19.2px;font-weight:normal;font-style:normal;color:#2a2a2a;text-align:center;padding-left:0px;letter-spacing:0px;font-family:"Liberation Sans", sans-serif;">Every 2 Weeks</div>
<div class="t" style="left:1280.60px;top:1292.06px;width:178.80px;height:26.88px;line-height:26.88px;font-size:19.2px;font-weight:normal;font-style:normal;color:#2a2a2a;text-align:center;padding-left:0px;letter-spacing:0px;font-family:"Liberation Sans", sans-serif;">1,00</div>
<div style="left:1016.50px;top:1320.00px;width:264.10px;height:29.40px;background:#fdc998;"></div>
<div style="left:1280.60px;top:1320.00px;width:178.80px;height:29.40px;background:#ffffff;"></div>
<div class="t" style="left:1016.50px;top:1322.46px;width:264.10px;height:26.88px;line-height:26.88px;font-size:19.2px;font-weight:normal;font-style:normal;color:#2a2a2a;text-align:center;padding-left:0px;letter-spacing:0px;font-family:"Liberation Sans", sans-serif;">Every 3 Weeks</div>
<div class="t" style="left:1280.60px;top:1321.46px;width:178.80px;height:26.88px;line-height:26.88px;font-size:19.2px;font-weight:normal;font-style:normal;color:#2a2a2a;text-align:center;padding-left:0px;letter-spacing:0px;font-family:"Liberation Sans", sans-serif;">0,67</div>
<div style="left:1016.50px;top:1349.40px;width:264.10px;height:29.40px;background:#bfe7d4;"></div>
<div style="left:1280.60px;top:1349.40px;width:178.80px;height:29.40px;background:#ffffff;"></div>
<div class="t" style="left:1016.50px;top:1351.86px;width:264.10px;height:26.88px;line-height:26.88px;font-size:19.2px;font-weight:normal;font-style:normal;color:#2a2a2a;text-align:center;padding-left:0.65px;letter-spacing:0.65px;font-family:"Liberation Sans", sans-serif;">Monthly</div>
<div class="t" style="left:1280.60px;top:1350.86px;width:178.80px;height:26.88px;line-height:26.88px;font-size:19.2px;font-weight:normal;font-style:normal;color:#2a2a2a;text-align:center;padding-left:0px;letter-spacing:0px;font-family:"Liberation Sans", sans-serif;">0,44</div>
<div style="left:1016.50px;top:1378.80px;width:264.10px;height:29.40px;background:#b5e1f5;"></div>
<div style="left:1280.60px;top:1378.80px;width:178.80px;height:29.40px;background:#ffffff;"></div>
<div class="t" style="left:1016.50px;top:1381.26px;width:264.10px;height:26.88px;line-height:26.88px;font-size:19.2px;font-weight:normal;font-style:normal;color:#2a2a2a;text-align:center;padding-left:0px;letter-spacing:0px;font-family:"Liberation Sans", sans-serif;">Every 4 Weeks</div>
<div class="t" style="left:1280.60px;top:1380.26px;width:178.80px;height:26.88px;line-height:26.88px;font-size:19.2px;font-weight:normal;font-style:normal;color:#2a2a2a;text-align:center;padding-left:0px;letter-spacing:0px;font-family:"Liberation Sans", sans-serif;">0,50</div>
<div style="left:1016.50px;top:1408.20px;width:264.10px;height:29.40px;background:#d8b4de;"></div>
<div style="left:1280.60px;top:1408.20px;width:178.80px;height:29.40px;background:#ffffff;"></div>
<div class="t" style="left:1016.50px;top:1410.66px;width:264.10px;height:26.88px;line-height:26.88px;font-size:19.2px;font-weight:normal;font-style:normal;color:#2a2a2a;text-align:center;padding-left:0px;letter-spacing:0px;font-family:"Liberation Sans", sans-serif;">Every 5 Weeks</div>
<div class="t" style="left:1280.60px;top:1409.66px;width:178.80px;height:26.88px;line-height:26.88px;font-size:19.2px;font-weight:normal;font-style:normal;color:#2a2a2a;text-align:center;padding-left:0px;letter-spacing:0px;font-family:"Liberation Sans", sans-serif;">0,40</div>
<div style="left:1016.50px;top:1437.60px;width:264.10px;height:29.40px;background:#f6a9d4;"></div>
<div style="left:1280.60px;top:1437.60px;width:178.80px;height:29.40px;background:#ffffff;"></div>
<div class="t" style="left:1016.50px;top:1440.06px;width:264.10px;height:26.88px;line-height:26.88px;font-size:19.2px;font-weight:normal;font-style:normal;color:#2a2a2a;text-align:center;padding-left:0px;letter-spacing:0px;font-family:"Liberation Sans", sans-serif;">Every 6 Weeks</div>
<div class="t" style="left:1280.60px;top:1439.06px;width:178.80px;height:26.88px;line-height:26.88px;font-size:19.2px;font-weight:normal;font-style:normal;color:#2a2a2a;text-align:center;padding-left:0px;letter-spacing:0px;font-family:"Liberation Sans", sans-serif;">0,33</div>
<div style="left:1016.50px;top:1467.00px;width:264.10px;height:29.40px;background:#d8d8d8;"></div>
<div style="left:1280.60px;top:1467.00px;width:178.80px;height:29.40px;background:#ffffff;"></div>
<div class="t" style="left:1016.50px;top:1469.46px;width:264.10px;height:26.88px;line-height:26.88px;font-size:19.2px;font-weight:normal;font-style:normal;color:#2a2a2a;text-align:center;padding-left:0.9px;letter-spacing:0.9px;font-family:"Liberation Sans", sans-serif;">Ad-hoc</div>
<div class="t" style="left:1280.60px;top:1468.46px;width:178.80px;height:26.88px;line-height:26.88px;font-size:19.2px;font-weight:normal;font-style:normal;color:#bdbdbd;text-align:center;padding-left:0px;letter-spacing:0px;font-family:"Liberation Sans", sans-serif;">0,00</div>
<div style="left:1016px;top:1260px;width:444px;height:2px;background:#b0b0b0"></div>
<div style="left:1016px;top:1290px;width:444px;height:2px;background:#b0b0b0"></div>
<div style="left:1016px;top:1319px;width:444px;height:2px;background:#b0b0b0"></div>
<div style="left:1016px;top:1348px;width:444px;height:2px;background:#b0b0b0"></div>
<div style="left:1016px;top:1378px;width:444px;height:2px;background:#b0b0b0"></div>
<div style="left:1016px;top:1407px;width:444px;height:2px;background:#b0b0b0"></div>
<div style="left:1016px;top:1437px;width:444px;height:2px;background:#b0b0b0"></div>
<div style="left:1016px;top:1466px;width:444px;height:2px;background:#b0b0b0"></div>
<div style="left:1016px;top:1495px;width:444px;height:2px;background:#b0b0b0"></div>
<div style="left:1016px;top:1202px;width:444px;height:2px;background:#b0b0b0"></div>
<div style="left:1016px;top:1202px;width:2px;height:295px;background:#b0b0b0"></div>
<div style="left:1458px;top:1202px;width:2px;height:295px;background:#b0b0b0"></div>
<div style="left:1280px;top:1260px;width:2px;height:237px;background:#b0b0b0"></div>
<div style="left:1473.50px;top:407.00px;width:522.30px;height:319.80px;background:#ffffff;border:2px solid #a6a6a6;"></div>
<div style="left:1473.30px;top:758.80px;width:521.40px;height:355.10px;background:#ffffff;border:2px solid #a6a6a6;"></div>
<div style="left:1473.50px;top:1143.30px;width:522.60px;height:352.80px;background:#ffffff;border:2px solid #a6a6a6;"></div>
<svg width="2084" height="2084" style="left:0;top:0">
<path d="M1632.80,454.70 A131.3,131.3 0 0 1 1725.64,493.16 L1676.78,542.02 A62.2,62.2 0 0 0 1632.80,523.80 Z" fill="#ec7d79" stroke="#fff" stroke-width="4" stroke-linejoin="miter"/>
<path d="M1725.64,493.16 A131.3,131.3 0 0 1 1764.10,586.00 L1695.00,586.00 A62.2,62.2 0 0 0 1676.78,542.02 Z" fill="#fbe07f" stroke="#fff" stroke-width="4" stroke-linejoin="miter"/>
<path d="M1764.10,586.00 A131.3,131.3 0 0 1 1725.64,678.84 L1676.78,629.98 A62.2,62.2 0 0 0 1695.00,586.00 Z" fill="#fdc593" stroke="#fff" stroke-width="4" stroke-linejoin="miter"/>
<path d="M1725.64,678.84 A131.3,131.3 0 0 1 1632.80,717.30 L1632.80,648.20 A62.2,62.2 0 0 0 1676.78,629.98 Z" fill="#a0dfc5" stroke="#fff" stroke-width="4" stroke-linejoin="miter"/>
<path d="M1632.80,717.30 A131.3,131.3 0 0 1 1539.96,678.84 L1588.82,629.98 A62.2,62.2 0 0 0 1632.80,648.20 Z" fill="#8dd2f2" stroke="#fff" stroke-width="4" stroke-linejoin="miter"/>
<path d="M1539.96,678.84 A131.3,131.3 0 0 1 1501.50,586.00 L1570.60,586.00 A62.2,62.2 0 0 0 1588.82,629.98 Z" fill="#c68cd0" stroke="#fff" stroke-width="4" stroke-linejoin="miter"/>
<path d="M1501.50,586.00 A131.3,131.3 0 0 1 1539.96,493.16 L1588.82,542.02 A62.2,62.2 0 0 0 1570.60,586.00 Z" fill="#f47fbd" stroke="#fff" stroke-width="4" stroke-linejoin="miter"/>
<path d="M1539.96,493.16 A131.3,131.3 0 0 1 1632.80,454.70 L1632.80,523.80 A62.2,62.2 0 0 0 1588.82,542.02 Z" fill="#bfbfbf" stroke="#fff" stroke-width="4" stroke-linejoin="miter"/>
<text x="1670.2" y="500.9" font-family="Liberation Sans, sans-serif" font-size="14.5" letter-spacing="-1.1" text-anchor="middle" fill="#404040">12%</text>
<text x="1723.1" y="553.8" font-family="Liberation Sans, sans-serif" font-size="14.5" letter-spacing="-1.1" text-anchor="middle" fill="#404040">12%</text>
<text x="1723.1" y="628.6" font-family="Liberation Sans, sans-serif" font-size="14.5" letter-spacing="-1.1" text-anchor="middle" fill="#404040">12%</text>
<text x="1670.2" y="681.5" font-family="Liberation Sans, sans-serif" font-size="14.5" letter-spacing="-1.1" text-anchor="middle" fill="#404040">12%</text>
<text x="1595.4" y="681.5" font-family="Liberation Sans, sans-serif" font-size="14.5" letter-spacing="-1.1" text-anchor="middle" fill="#404040">13%</text>
<text x="1542.5" y="628.6" font-family="Liberation Sans, sans-serif" font-size="14.5" letter-spacing="-1.1" text-anchor="middle" fill="#404040">13%</text>
<text x="1542.5" y="553.8" font-family="Liberation Sans, sans-serif" font-size="14.5" letter-spacing="-1.1" text-anchor="middle" fill="#404040">13%</text>
<text x="1595.4" y="500.9" font-family="Liberation Sans, sans-serif" font-size="14.5" letter-spacing="-1.1" text-anchor="middle" fill="#404040">13%</text>
<text x="1734.6" y="441.6" font-family="Liberation Sans, sans-serif" font-size="23" text-anchor="middle" fill="#595959" stroke="#595959" stroke-width="0.8" letter-spacing="-0.62" word-spacing="-3">Actual Weekly Sessions by Frequency</text>
<rect x="1834" y="476" width="5.6" height="5.6" fill="#ec7d79"/>
<text x="1845.8" y="484.8" font-family="Liberation Sans, sans-serif" font-size="16" font-weight="bold" fill="#626262" letter-spacing="0.2">Weekly</text>
<rect x="1834" y="505.5" width="5.6" height="5.6" fill="#fbe07f"/>
<text x="1845.8" y="514.3" font-family="Liberation Sans, sans-serif" font-size="16" font-weight="bold" fill="#626262" letter-spacing="0.2">Every 2 Weeks</text>
<rect x="1834" y="534.8" width="5.6" height="5.6" fill="#fdc593"/>
<text x="1845.8" y="543.5999999999999" font-family="Liberation Sans, sans-serif" font-size="16" font-weight="bold" fill="#626262" letter-spacing="0.2">Every 3 Weeks</text>
<rect x="1834" y="564" width="5.6" height="5.6" fill="#a0dfc5"/>
<text x="1845.8" y="572.8" font-family="Liberation Sans, sans-serif" font-size="16" font-weight="bold" fill="#626262" letter-spacing="0.2">Monthly</text>
<rect x="1834" y="593.5" width="5.6" height="5.6" fill="#8dd2f2"/>
<text x="1845.8" y="602.3" font-family="Liberation Sans, sans-serif" font-size="16" font-weight="bold" fill="#626262" letter-spacing="0.2">Every 4 Weeks</text>
<rect x="1834" y="622.8" width="5.6" height="5.6" fill="#c68cd0"/>
<text x="1845.8" y="631.5999999999999" font-family="Liberation Sans, sans-serif" font-size="16" font-weight="bold" fill="#626262" letter-spacing="0.2">Every 5 Weeks</text>
<rect x="1834" y="652" width="5.6" height="5.6" fill="#f47fbd"/>
<text x="1845.8" y="660.8" font-family="Liberation Sans, sans-serif" font-size="16" font-weight="bold" fill="#626262" letter-spacing="0.2">Every 6 Weeks</text>
<rect x="1834" y="681.5" width="5.6" height="5.6" fill="#bfbfbf"/>
<text x="1845.8" y="690.3" font-family="Liberation Sans, sans-serif" font-size="16" font-weight="bold" fill="#626262" letter-spacing="0.2">Ad-hoc</text>
<path d="M1737.00,816.10 A121.3,121.3 0 0 1 1771.17,1053.79 L1753.23,992.67 A57.6,57.6 0 0 0 1737.00,879.80 Z" fill="#a0dfc5" stroke="#fff" stroke-width="4"/>
<path d="M1771.17,1053.79 A121.3,121.3 0 1 1 1737.00,816.10 L1737.00,879.80 A57.6,57.6 0 1 0 1753.23,992.67 Z" fill="#fae17f" stroke="#fff" stroke-width="4"/>
<text x="1825.5" y="931.5" font-family="Liberation Sans, sans-serif" font-size="19" text-anchor="middle" fill="#404040">5</text>
<text x="1648.3" y="957.8" font-family="Liberation Sans, sans-serif" font-size="19" text-anchor="middle" fill="#404040">6</text>
<text x="1734" y="790" font-family="Liberation Sans, sans-serif" font-size="19" font-weight="bold" text-anchor="middle" fill="#595959" letter-spacing="-0.55">Scheduled vs. Remaining Sessions</text>
<rect x="1559.6" y="1086.6" width="5.6" height="5.6" fill="#a0dfc5"/>
<text x="1570.8" y="1095.2" font-family="Liberation Sans, sans-serif" font-size="16" font-weight="bold" fill="#626262" letter-spacing="-0.1">Sessions Scheduled</text>
<rect x="1754" y="1086.6" width="5.6" height="5.6" fill="#fae17f"/>
<text x="1766" y="1095.2" font-family="Liberation Sans, sans-serif" font-size="16" font-weight="bold" fill="#626262" letter-spacing="-0.18">Sessions Remaining</text>
<text x="1735" y="1178.5" font-family="Liberation Sans, sans-serif" font-size="23.5" text-anchor="middle" fill="#595959" stroke="#595959" stroke-width="0.8" letter-spacing="-0.97" word-spacing="-3">Scheduled Sessions by Frequency</text>
<line x1="1492.4" y1="1198" x2="1979.3" y2="1198" stroke="#d9d9d9" stroke-width="1.3"/>
<line x1="1492.4" y1="1242" x2="1979.3" y2="1242" stroke="#d9d9d9" stroke-width="1.3"/>
<line x1="1492.4" y1="1285.8" x2="1979.3" y2="1285.8" stroke="#d9d9d9" stroke-width="1.3"/>
<line x1="1492.4" y1="1330" x2="1979.3" y2="1330" stroke="#d9d9d9" stroke-width="1.3"/>
<line x1="1492.4" y1="1374" x2="1979.3" y2="1374" stroke="#d9d9d9" stroke-width="1.3"/>
<line x1="1492.4" y1="1419" x2="1979.3" y2="1419" stroke="#d0d0d0" stroke-width="1.3"/>
<line x1="1492.4" y1="1419" x2="1492.4" y2="1423" stroke="#d0d0d0" stroke-width="1.3"/>
<line x1="1553.3" y1="1419" x2="1553.3" y2="1423" stroke="#d0d0d0" stroke-width="1.3"/>
<line x1="1614.1" y1="1419" x2="1614.1" y2="1423" stroke="#d0d0d0" stroke-width="1.3"/>
<line x1="1675.0" y1="1419" x2="1675.0" y2="1423" stroke="#d0d0d0" stroke-width="1.3"/>
<line x1="1735.8" y1="1419" x2="1735.8" y2="1423" stroke="#d0d0d0" stroke-width="1.3"/>
<line x1="1796.7" y1="1419" x2="1796.7" y2="1423" stroke="#d0d0d0" stroke-width="1.3"/>
<line x1="1857.6" y1="1419" x2="1857.6" y2="1423" stroke="#d0d0d0" stroke-width="1.3"/>
<line x1="1918.4" y1="1419" x2="1918.4" y2="1423" stroke="#d0d0d0" stroke-width="1.3"/>
<line x1="1979.3" y1="1419" x2="1979.3" y2="1423" stroke="#d0d0d0" stroke-width="1.3"/>
<rect x="1505.4" y="1239" width="34.8" height="179.3" fill="#fff"/>
<rect x="1509.4" y="1243" width="26.8" height="173.7" fill="#ec7d79"/>
<text x="1522.8" y="1229.8" font-family="Liberation Sans, sans-serif" font-size="13.5" text-anchor="middle" fill="#404040">2</text>
<text x="1523.3" y="1442.5" font-family="Liberation Sans, sans-serif" font-size="15" text-anchor="middle" fill="#666666" letter-spacing="-1">Weekly</text>
<rect x="1566.3" y="1239" width="34.8" height="179.3" fill="#fff"/>
<rect x="1570.3" y="1243" width="26.8" height="173.7" fill="#fbe07f"/>
<text x="1583.7" y="1229.8" font-family="Liberation Sans, sans-serif" font-size="13.5" text-anchor="middle" fill="#404040">2</text>
<text x="1584.2" y="1442.5" font-family="Liberation Sans, sans-serif" font-size="15" text-anchor="middle" fill="#666666" letter-spacing="-1">Every 2</text>
<text x="1584.2" y="1460.3" font-family="Liberation Sans, sans-serif" font-size="15" text-anchor="middle" fill="#666666" letter-spacing="-1">Weeks</text>
<rect x="1627.2" y="1239" width="34.8" height="179.3" fill="#fff"/>
<rect x="1631.2" y="1243" width="26.8" height="173.7" fill="#fdc593"/>
<text x="1644.6" y="1229.8" font-family="Liberation Sans, sans-serif" font-size="13.5" text-anchor="middle" fill="#404040">2</text>
<text x="1645.1" y="1442.5" font-family="Liberation Sans, sans-serif" font-size="15" text-anchor="middle" fill="#666666" letter-spacing="-1">Every 3</text>
<text x="1645.1" y="1460.3" font-family="Liberation Sans, sans-serif" font-size="15" text-anchor="middle" fill="#666666" letter-spacing="-1">Weeks</text>
<rect x="1688.0" y="1239" width="34.8" height="179.3" fill="#fff"/>
<rect x="1692.0" y="1243" width="26.8" height="173.7" fill="#a0dfc5"/>
<text x="1705.4" y="1229.8" font-family="Liberation Sans, sans-serif" font-size="13.5" text-anchor="middle" fill="#404040">2</text>
<text x="1705.9" y="1442.5" font-family="Liberation Sans, sans-serif" font-size="15" text-anchor="middle" fill="#666666" letter-spacing="-1">Monthly</text>
<rect x="1748.9" y="1239" width="34.8" height="179.3" fill="#fff"/>
<rect x="1752.9" y="1243" width="26.8" height="173.7" fill="#8dd2f2"/>
<text x="1766.3" y="1229.8" font-family="Liberation Sans, sans-serif" font-size="13.5" text-anchor="middle" fill="#404040">2</text>
<text x="1766.8" y="1442.5" font-family="Liberation Sans, sans-serif" font-size="15" text-anchor="middle" fill="#666666" letter-spacing="-1">Every 4</text>
<text x="1766.8" y="1460.3" font-family="Liberation Sans, sans-serif" font-size="15" text-anchor="middle" fill="#666666" letter-spacing="-1">Weeks</text>
<rect x="1809.7" y="1239" width="34.8" height="179.3" fill="#fff"/>
<rect x="1813.7" y="1243" width="26.8" height="173.7" fill="#c68cd0"/>
<text x="1827.1" y="1229.8" font-family="Liberation Sans, sans-serif" font-size="13.5" text-anchor="middle" fill="#404040">2</text>
<text x="1827.6" y="1442.5" font-family="Liberation Sans, sans-serif" font-size="15" text-anchor="middle" fill="#666666" letter-spacing="-1">Every 5</text>
<text x="1827.6" y="1460.3" font-family="Liberation Sans, sans-serif" font-size="15" text-anchor="middle" fill="#666666" letter-spacing="-1">Weeks</text>
<rect x="1870.6" y="1239" width="34.8" height="179.3" fill="#fff"/>
<rect x="1874.6" y="1243" width="26.8" height="173.7" fill="#f47fbd"/>
<text x="1888.0" y="1229.8" font-family="Liberation Sans, sans-serif" font-size="13.5" text-anchor="middle" fill="#404040">2</text>
<text x="1888.5" y="1442.5" font-family="Liberation Sans, sans-serif" font-size="15" text-anchor="middle" fill="#666666" letter-spacing="-1">Every 6</text>
<text x="1888.5" y="1460.3" font-family="Liberation Sans, sans-serif" font-size="15" text-anchor="middle" fill="#666666" letter-spacing="-1">Weeks</text>
<rect x="1931.5" y="1239" width="34.8" height="179.3" fill="#fff"/>
<rect x="1935.5" y="1243" width="26.8" height="173.7" fill="#bfbfbf"/>
<text x="1948.9" y="1229.8" font-family="Liberation Sans, sans-serif" font-size="13.5" text-anchor="middle" fill="#404040">2</text>
<text x="1949.4" y="1442.5" font-family="Liberation Sans, sans-serif" font-size="15" text-anchor="middle" fill="#666666" letter-spacing="-1">Ad-hoc</text>
</svg>
<div style="left:95.70px;top:1596.00px;width:1891.50px;height:38.00px;background:#11678d;"></div>
<div class="t" style="left:95.70px;top:1602.55px;width:1891.50px;height:27.30px;line-height:27.30px;font-size:19.5px;font-weight:bold;font-style:normal;color:#fff;text-align:center;padding-left:0.419px;letter-spacing:0.419px;font-family:"Liberation Sans", sans-serif;">CLIENT CONTACT DETAILS</div>
<div style="left:95.70px;top:1634.00px;width:1891.50px;height:38.00px;background:#fee5c8;"></div>
<div class="t" style="left:95.70px;top:1642.18px;width:163.70px;height:26.04px;line-height:26.04px;font-size:18.6px;font-weight:bold;font-style:normal;color:#141414;text-align:center;padding-left:-0.626px;letter-spacing:-0.626px;font-family:"Liberation Sans", sans-serif;">Full Name</div>
<div class="t" style="left:259.40px;top:1642.18px;width:164.90px;height:26.04px;line-height:26.04px;font-size:18.6px;font-weight:bold;font-style:normal;color:#141414;text-align:center;padding-left:-0.015px;letter-spacing:-0.015px;font-family:"Liberation Sans", sans-serif;">Mobile Number</div>
<div class="t" style="left:424.30px;top:1642.18px;width:142.90px;height:26.04px;line-height:26.04px;font-size:18.6px;font-weight:bold;font-style:normal;color:#141414;text-align:center;padding-left:-0.417px;letter-spacing:-0.417px;font-family:"Liberation Sans", sans-serif;">Other Number</div>
<div class="t" style="left:567.20px;top:1642.18px;width:236.30px;height:26.04px;line-height:26.04px;font-size:18.6px;font-weight:bold;font-style:normal;color:#141414;text-align:center;padding-left:-0.836px;letter-spacing:-0.836px;font-family:"Liberation Sans", sans-serif;">Email Address</div>
<div class="t" style="left:803.50px;top:1642.18px;width:103.60px;height:26.04px;line-height:26.04px;font-size:18.6px;font-weight:bold;font-style:normal;color:#141414;text-align:center;padding-left:-1.046px;letter-spacing:-1.046px;font-family:"Liberation Sans", sans-serif;">Birthday</div>
<div class="t" style="left:907.10px;top:1642.18px;width:292.10px;height:26.04px;line-height:26.04px;font-size:18.6px;font-weight:bold;font-style:normal;color:#141414;text-align:center;padding-left:-0.9px;letter-spacing:-0.9px;font-family:"Liberation Sans", sans-serif;">Street Address</div>
<div class="t" style="left:1199.20px;top:1642.18px;width:182.60px;height:26.04px;line-height:26.04px;font-size:18.6px;font-weight:bold;font-style:normal;color:#141414;text-align:center;padding-left:-1.018px;letter-spacing:-1.018px;font-family:"Liberation Sans", sans-serif;">City</div>
<div class="t" style="left:1381.80px;top:1642.18px;width:63.40px;height:26.04px;line-height:26.04px;font-size:18.6px;font-weight:bold;font-style:normal;color:#141414;text-align:center;padding-left:-1.244px;letter-spacing:-1.244px;font-family:"Liberation Sans", sans-serif;">State</div>
<div class="t" style="left:1445.20px;top:1642.18px;width:145.20px;height:26.04px;line-height:26.04px;font-size:18.6px;font-weight:bold;font-style:normal;color:#141414;text-align:center;padding-left:-0.231px;letter-spacing:-0.231px;font-family:"Liberation Sans", sans-serif;">Zip Code</div>
<div class="t" style="left:1590.40px;top:1642.18px;width:396.80px;height:26.04px;line-height:26.04px;font-size:18.6px;font-weight:bold;font-style:normal;color:#141414;text-align:center;padding-left:-0.588px;letter-spacing:-0.588px;font-family:"Liberation Sans", sans-serif;">Notes &amp; Additional Info 1</div>
<div style="left:95.70px;top:1672.00px;width:1891.50px;height:26.00px;background:#f2f2f2;"></div>
<div style="left:95.70px;top:1698.00px;width:1891.50px;height:25.67px;background:#ffffff;"></div>
<div class="t" style="left:95.70px;top:1698.88px;width:163.70px;height:26.32px;line-height:26.32px;font-size:18.8px;font-weight:normal;font-style:normal;color:#2a2a2a;text-align:center;padding-left:0px;letter-spacing:0px;font-family:"Liberation Sans", sans-serif;">Client Name 1</div>
<div class="t" style="left:259.40px;top:1698.88px;width:164.90px;height:26.32px;line-height:26.32px;font-size:18.8px;font-weight:normal;font-style:normal;color:#2a2a2a;text-align:center;padding-left:0px;letter-spacing:0px;font-family:"Liberation Sans", sans-serif;">Number Client 1</div>
<div class="t" style="left:424.30px;top:1698.88px;width:142.90px;height:26.32px;line-height:26.32px;font-size:18.8px;font-weight:normal;font-style:normal;color:#2a2a2a;text-align:center;padding-left:0px;letter-spacing:0px;font-family:"Liberation Sans", sans-serif;">Other Client 1</div>
<div class="t" style="left:567.20px;top:1698.88px;width:236.30px;height:26.32px;line-height:26.32px;font-size:18.8px;font-weight:normal;font-style:normal;color:#2a2a2a;text-align:center;padding-left:0px;letter-spacing:0px;font-family:"Liberation Sans", sans-serif;">Client Email 1</div>
<div class="t" style="left:803.50px;top:1698.88px;width:103.60px;height:26.32px;line-height:26.32px;font-size:18.8px;font-weight:normal;font-style:normal;color:#2a2a2a;text-align:center;padding-left:0px;letter-spacing:0px;font-family:"Liberation Sans", sans-serif;">Dec 1, 85</div>
<div class="t" style="left:907.10px;top:1698.88px;width:292.10px;height:26.32px;line-height:26.32px;font-size:18.8px;font-weight:normal;font-style:normal;color:#2a2a2a;text-align:left;padding-left:13.5px;letter-spacing:0px;font-family:"Liberation Sans", sans-serif;">Client Street Address 1</div>
<div class="t" style="left:1590.40px;top:1698.81px;width:396.80px;height:26.46px;line-height:26.46px;font-size:18.9px;font-weight:normal;font-style:normal;color:#2a2a2a;text-align:left;padding-left:2.5px;letter-spacing:0px;font-family:"Liberation Sans", sans-serif;">Notes or Additional Info Client 1</div>
<div style="left:95.70px;top:1723.67px;width:1891.50px;height:25.67px;background:#ffffff;"></div>
<div class="t" style="left:95.70px;top:1724.55px;width:163.70px;height:26.32px;line-height:26.32px;font-size:18.8px;font-weight:normal;font-style:normal;color:#2a2a2a;text-align:center;padding-left:0px;letter-spacing:0px;font-family:"Liberation Sans", sans-serif;">Client Name 2</div>
<div class="t" style="left:259.40px;top:1724.55px;width:164.90px;height:26.32px;line-height:26.32px;font-size:18.8px;font-weight:normal;font-style:normal;color:#2a2a2a;text-align:center;padding-left:0px;letter-spacing:0px;font-family:"Liberation Sans", sans-serif;">Number Client 2</div>
<div class="t" style="left:424.30px;top:1724.55px;width:142.90px;height:26.32px;line-height:26.32px;font-size:18.8px;font-weight:normal;font-style:normal;color:#2a2a2a;text-align:center;padding-left:0px;letter-spacing:0px;font-family:"Liberation Sans", sans-serif;">Other Client 2</div>
<div class="t" style="left:567.20px;top:1724.55px;width:236.30px;height:26.32px;line-height:26.32px;font-size:18.8px;font-weight:normal;font-style:normal;color:#2a2a2a;text-align:center;padding-left:0px;letter-spacing:0px;font-family:"Liberation Sans", sans-serif;">Client Email 2</div>
<div class="t" style="left:803.50px;top:1724.55px;width:103.60px;height:26.32px;line-height:26.32px;font-size:18.8px;font-weight:normal;font-style:normal;color:#2a2a2a;text-align:center;padding-left:0px;letter-spacing:0px;font-family:"Liberation Sans", sans-serif;">Dec 2, 85</div>
<div class="t" style="left:907.10px;top:1724.55px;width:292.10px;height:26.32px;line-height:26.32px;font-size:18.8px;font-weight:normal;font-style:normal;color:#2a2a2a;text-align:left;padding-left:13.5px;letter-spacing:0px;font-family:"Liberation Sans", sans-serif;">Client Street Address 2</div>
<div class="t" style="left:1590.40px;top:1724.48px;width:396.80px;height:26.46px;line-height:26.46px;font-size:18.9px;font-weight:normal;font-style:normal;color:#2a2a2a;text-align:left;padding-left:2.5px;letter-spacing:0px;font-family:"Liberation Sans", sans-serif;">Notes or Additional Info Client 2</div>
<div style="left:95.70px;top:1749.35px;width:1891.50px;height:25.67px;background:#ffffff;"></div>
<div class="t" style="left:95.70px;top:1750.22px;width:163.70px;height:26.32px;line-height:26.32px;font-size:18.8px;font-weight:normal;font-style:normal;color:#2a2a2a;text-align:center;padding-left:0px;letter-spacing:0px;font-family:"Liberation Sans", sans-serif;">Client Name 3</div>
<div class="t" style="left:259.40px;top:1750.22px;width:164.90px;height:26.32px;line-height:26.32px;font-size:18.8px;font-weight:normal;font-style:normal;color:#2a2a2a;text-align:center;padding-left:0px;letter-spacing:0px;font-family:"Liberation Sans", sans-serif;">Number Client 3</div>
<div class="t" style="left:424.30px;top:1750.22px;width:142.90px;height:26.32px;line-height:26.32px;font-size:18.8px;font-weight:normal;font-style:normal;color:#2a2a2a;text-align:center;padding-left:0px;letter-spacing:0px;font-family:"Liberation Sans", sans-serif;">Other Client 3</div>
<div class="t" style="left:567.20px;top:1750.22px;width:236.30px;height:26.32px;line-height:26.32px;font-size:18.8px;font-weight:normal;font-style:normal;color:#2a2a2a;text-align:center;padding-left:0px;letter-spacing:0px;font-family:"Liberation Sans", sans-serif;">Client Email 3</div>
<div class="t" style="left:803.50px;top:1750.22px;width:103.60px;height:26.32px;line-height:26.32px;font-size:18.8px;font-weight:normal;font-style:normal;color:#2a2a2a;text-align:center;padding-left:0px;letter-spacing:0px;font-family:"Liberation Sans", sans-serif;">Dec 3, 85</div>
<div class="t" style="left:907.10px;top:1750.22px;width:292.10px;height:26.32px;line-height:26.32px;font-size:18.8px;font-weight:normal;font-style:normal;color:#2a2a2a;text-align:left;padding-left:13.5px;letter-spacing:0px;font-family:"Liberation Sans", sans-serif;">Client Street Address 3</div>
<div class="t" style="left:1590.40px;top:1750.15px;width:396.80px;height:26.46px;line-height:26.46px;font-size:18.9px;font-weight:normal;font-style:normal;color:#2a2a2a;text-align:left;padding-left:2.5px;letter-spacing:0px;font-family:"Liberation Sans", sans-serif;">Notes or Additional Info Client 3</div>
<div style="left:95.70px;top:1775.02px;width:1891.50px;height:25.67px;background:#ffffff;"></div>
<div class="t" style="left:95.70px;top:1775.89px;width:163.70px;height:26.32px;line-height:26.32px;font-size:18.8px;font-weight:normal;font-style:normal;color:#2a2a2a;text-align:center;padding-left:0px;letter-spacing:0px;font-family:"Liberation Sans", sans-serif;">Client Name 4</div>
<div class="t" style="left:259.40px;top:1775.89px;width:164.90px;height:26.32px;line-height:26.32px;font-size:18.8px;font-weight:normal;font-style:normal;color:#2a2a2a;text-align:center;padding-left:0px;letter-spacing:0px;font-family:"Liberation Sans", sans-serif;">Number Client 4</div>
<div class="t" style="left:424.30px;top:1775.89px;width:142.90px;height:26.32px;line-height:26.32px;font-size:18.8px;font-weight:normal;font-style:normal;color:#2a2a2a;text-align:center;padding-left:0px;letter-spacing:0px;font-family:"Liberation Sans", sans-serif;">Other Client 4</div>
<div class="t" style="left:567.20px;top:1775.89px;width:236.30px;height:26.32px;line-height:26.32px;font-size:18.8px;font-weight:normal;font-style:normal;color:#2a2a2a;text-align:center;padding-left:0px;letter-spacing:0px;font-family:"Liberation Sans", sans-serif;">Client Email 4</div>
<div class="t" style="left:803.50px;top:1775.89px;width:103.60px;height:26.32px;line-height:26.32px;font-size:18.8px;font-weight:normal;font-style:normal;color:#2a2a2a;text-align:center;padding-left:0px;letter-spacing:0px;font-family:"Liberation Sans", sans-serif;">Dec 4, 85</div>
<div class="t" style="left:907.10px;top:1775.89px;width:292.10px;height:26.32px;line-height:26.32px;font-size:18.8px;font-weight:normal;font-style:normal;color:#2a2a2a;text-align:left;padding-left:13.5px;letter-spacing:0px;font-family:"Liberation Sans", sans-serif;">Client Street Address 4</div>
<div class="t" style="left:1590.40px;top:1775.82px;width:396.80px;height:26.46px;line-height:26.46px;font-size:18.9px;font-weight:normal;font-style:normal;color:#2a2a2a;text-align:left;padding-left:2.5px;letter-spacing:0px;font-family:"Liberation Sans", sans-serif;">Notes or Additional Info Client 4</div>
<div style="left:95.70px;top:1800.69px;width:1891.50px;height:25.67px;background:#ffffff;"></div>
<div class="t" style="left:95.70px;top:1801.57px;width:163.70px;height:26.32px;line-height:26.32px;font-size:18.8px;font-weight:normal;font-style:normal;color:#2a2a2a;text-align:center;padding-left:0px;letter-spacing:0px;font-family:"Liberation Sans", sans-serif;">Client Name 5</div>
<div class="t" style="left:259.40px;top:1801.57px;width:164.90px;height:26.32px;line-height:26.32px;font-size:18.8px;font-weight:normal;font-style:normal;color:#2a2a2a;text-align:center;padding-left:0px;letter-spacing:0px;font-family:"Liberation Sans", sans-serif;">Number Client 5</div>
<div class="t" style="left:424.30px;top:1801.57px;width:142.90px;height:26.32px;line-height:26.32px;font-size:18.8px;font-weight:normal;font-style:normal;color:#2a2a2a;text-align:center;padding-left:0px;letter-spacing:0px;font-family:"Liberation Sans", sans-serif;">Other Client 5</div>
<div class="t" style="left:567.20px;top:1801.57px;width:236.30px;height:26.32px;line-height:26.32px;font-size:18.8px;font-weight:normal;font-style:normal;color:#2a2a2a;text-align:center;padding-left:0px;letter-spacing:0px;font-family:"Liberation Sans", sans-serif;">Client Email 5</div>
<div class="t" style="left:803.50px;top:1801.57px;width:103.60px;height:26.32px;line-height:26.32px;font-size:18.8px;font-weight:normal;font-style:normal;color:#2a2a2a;text-align:center;padding-left:0px;letter-spacing:0px;font-family:"Liberation Sans", sans-serif;">Dec 5, 85</div>
<div class="t" style="left:907.10px;top:1801.57px;width:292.10px;height:26.32px;line-height:26.32px;font-size:18.8px;font-weight:normal;font-style:normal;color:#2a2a2a;text-align:left;padding-left:13.5px;letter-spacing:0px;font-family:"Liberation Sans", sans-serif;">Client Street Address 5</div>
<div class="t" style="left:1590.40px;top:1801.50px;width:396.80px;height:26.46px;line-height:26.46px;font-size:18.9px;font-weight:normal;font-style:normal;color:#2a2a2a;text-align:left;padding-left:2.5px;letter-spacing:0px;font-family:"Liberation Sans", sans-serif;">Notes or Additional Info Client 5</div>
<div style="left:95.70px;top:1826.36px;width:1891.50px;height:25.67px;background:#ffffff;"></div>
<div class="t" style="left:95.70px;top:1827.24px;width:163.70px;height:26.32px;line-height:26.32px;font-size:18.8px;font-weight:normal;font-style:normal;color:#2a2a2a;text-align:center;padding-left:0px;letter-spacing:0px;font-family:"Liberation Sans", sans-serif;">Client Name 6</div>
<div class="t" style="left:259.40px;top:1827.24px;width:164.90px;height:26.32px;line-height:26.32px;font-size:18.8px;font-weight:normal;font-style:normal;color:#2a2a2a;text-align:center;padding-left:0px;letter-spacing:0px;font-family:"Liberation Sans", sans-serif;">Number Client 6</div>
<div class="t" style="left:424.30px;top:1827.24px;width:142.90px;height:26.32px;line-height:26.32px;font-size:18.8px;font-weight:normal;font-style:normal;color:#2a2a2a;text-align:center;padding-left:0px;letter-spacing:0px;font-family:"Liberation Sans", sans-serif;">Other Client 6</div>
<div class="t" style="left:567.20px;top:1827.24px;width:236.30px;height:26.32px;line-height:26.32px;font-size:18.8px;font-weight:normal;font-style:normal;color:#2a2a2a;text-align:center;padding-left:0px;letter-spacing:0px;font-family:"Liberation Sans", sans-serif;">Client Email 6</div>
<div class="t" style="left:803.50px;top:1827.24px;width:103.60px;height:26.32px;line-height:26.32px;font-size:18.8px;font-weight:normal;font-style:normal;color:#2a2a2a;text-align:center;padding-left:0px;letter-spacing:0px;font-family:"Liberation Sans", sans-serif;">Dec 6, 85</div>
<div class="t" style="left:907.10px;top:1827.24px;width:292.10px;height:26.32px;line-height:26.32px;font-size:18.8px;font-weight:normal;font-style:normal;color:#2a2a2a;text-align:left;padding-left:13.5px;letter-spacing:0px;font-family:"Liberation Sans", sans-serif;">Client Street Address 6</div>
<div class="t" style="left:1590.40px;top:1827.17px;width:396.80px;height:26.46px;line-height:26.46px;font-size:18.9px;font-weight:normal;font-style:normal;color:#2a2a2a;text-align:left;padding-left:2.5px;letter-spacing:0px;font-family:"Liberation Sans", sans-serif;">Notes or Additional Info Client 6</div>
<div style="left:95.70px;top:1852.04px;width:1891.50px;height:25.67px;background:#ffffff;"></div>
<div class="t" style="left:95.70px;top:1852.91px;width:163.70px;height:26.32px;line-height:26.32px;font-size:18.8px;font-weight:normal;font-style:normal;color:#2a2a2a;text-align:center;padding-left:0px;letter-spacing:0px;font-family:"Liberation Sans", sans-serif;">Client Name 7</div>
<div class="t" style="left:259.40px;top:1852.91px;width:164.90px;height:26.32px;line-height:26.32px;font-size:18.8px;font-weight:normal;font-style:normal;color:#2a2a2a;text-align:center;padding-left:0px;letter-spacing:0px;font-family:"Liberation Sans", sans-serif;">Number Client 7</div>
<div class="t" style="left:424.30px;top:1852.91px;width:142.90px;height:26.32px;line-height:26.32px;font-size:18.8px;font-weight:normal;font-style:normal;color:#2a2a2a;text-align:center;padding-left:0px;letter-spacing:0px;font-family:"Liberation Sans", sans-serif;">Other Client 7</div>
<div class="t" style="left:567.20px;top:1852.91px;width:236.30px;height:26.32px;line-height:26.32px;font-size:18.8px;font-weight:normal;font-style:normal;color:#2a2a2a;text-align:center;padding-left:0px;letter-spacing:0px;font-family:"Liberation Sans", sans-serif;">Client Email 7</div>
<div class="t" style="left:803.50px;top:1852.91px;width:103.60px;height:26.32px;line-height:26.32px;font-size:18.8px;font-weight:normal;font-style:normal;color:#2a2a2a;text-align:center;padding-left:0px;letter-spacing:0px;font-family:"Liberation Sans", sans-serif;">Dec 7, 85</div>
<div class="t" style="left:907.10px;top:1852.91px;width:292.10px;height:26.32px;line-height:26.32px;font-size:18.8px;font-weight:normal;font-style:normal;color:#2a2a2a;text-align:left;padding-left:13.5px;letter-spacing:0px;font-family:"Liberation Sans", sans-serif;">Client Street Address 7</div>
<div class="t" style="left:1590.40px;top:1852.84px;width:396.80px;height:26.46px;line-height:26.46px;font-size:18.9px;font-weight:normal;font-style:normal;color:#2a2a2a;text-align:left;padding-left:2.5px;letter-spacing:0px;font-family:"Liberation Sans", sans-serif;">Notes or Additional Info Client 7</div>
<div style="left:95.70px;top:1877.71px;width:1891.50px;height:25.67px;background:#ffffff;"></div>
<div class="t" style="left:95.70px;top:1878.59px;width:163.70px;height:26.32px;line-height:26.32px;font-size:18.8px;font-weight:normal;font-style:normal;color:#2a2a2a;text-align:center;padding-left:0px;letter-spacing:0px;font-family:"Liberation Sans", sans-serif;">Client Name 8</div>
<div class="t" style="left:259.40px;top:1878.59px;width:164.90px;height:26.32px;line-height:26.32px;font-size:18.8px;font-weight:normal;font-style:normal;color:#2a2a2a;text-align:center;padding-left:0px;letter-spacing:0px;font-family:"Liberation Sans", sans-serif;">Number Client 8</div>
<div class="t" style="left:424.30px;top:1878.59px;width:142.90px;height:26.32px;line-height:26.32px;font-size:18.8px;font-weight:normal;font-style:normal;color:#2a2a2a;text-align:center;padding-left:0px;letter-spacing:0px;font-family:"Liberation Sans", sans-serif;">Other Client 8</div>
<div class="t" style="left:567.20px;top:1878.59px;width:236.30px;height:26.32px;line-height:26.32px;font-size:18.8px;font-weight:normal;font-style:normal;color:#2a2a2a;text-align:center;padding-left:0px;letter-spacing:0px;font-family:"Liberation Sans", sans-serif;">Client Email 8</div>
<div class="t" style="left:803.50px;top:1878.59px;width:103.60px;height:26.32px;line-height:26.32px;font-size:18.8px;font-weight:normal;font-style:normal;color:#2a2a2a;text-align:center;padding-left:0px;letter-spacing:0px;font-family:"Liberation Sans", sans-serif;">Dec 8, 85</div>
<div class="t" style="left:907.10px;top:1878.59px;width:292.10px;height:26.32px;line-height:26.32px;font-size:18.8px;font-weight:normal;font-style:normal;color:#2a2a2a;text-align:left;padding-left:13.5px;letter-spacing:0px;font-family:"Liberation Sans", sans-serif;">Client Street Address 8</div>
<div class="t" style="left:1590.40px;top:1878.52px;width:396.80px;height:26.46px;line-height:26.46px;font-size:18.9px;font-weight:normal;font-style:normal;color:#2a2a2a;text-align:left;padding-left:2.5px;letter-spacing:0px;font-family:"Liberation Sans", sans-serif;">Notes or Additional Info Client 8</div>
<div style="left:95.70px;top:1903.38px;width:1891.50px;height:25.67px;background:#ffffff;"></div>
<div class="t" style="left:95.70px;top:1904.26px;width:163.70px;height:26.32px;line-height:26.32px;font-size:18.8px;font-weight:normal;font-style:normal;color:#2a2a2a;text-align:center;padding-left:0px;letter-spacing:0px;font-family:"Liberation Sans", sans-serif;">Client Name 9</div>
<div class="t" style="left:259.40px;top:1904.26px;width:164.90px;height:26.32px;line-height:26.32px;font-size:18.8px;font-weight:normal;font-style:normal;color:#2a2a2a;text-align:center;padding-left:0px;letter-spacing:0px;font-family:"Liberation Sans", sans-serif;">Number Client 9</div>
<div class="t" style="left:424.30px;top:1904.26px;width:142.90px;height:26.32px;line-height:26.32px;font-size:18.8px;font-weight:normal;font-style:normal;color:#2a2a2a;text-align:center;padding-left:0px;letter-spacing:0px;font-family:"Liberation Sans", sans-serif;">Other Client 9</div>
<div class="t" style="left:567.20px;top:1904.26px;width:236.30px;height:26.32px;line-height:26.32px;font-size:18.8px;font-weight:normal;font-style:normal;color:#2a2a2a;text-align:center;padding-left:0px;letter-spacing:0px;font-family:"Liberation Sans", sans-serif;">Client Email 9</div>
<div class="t" style="left:803.50px;top:1904.26px;width:103.60px;height:26.32px;line-height:26.32px;font-size:18.8px;font-weight:normal;font-style:normal;color:#2a2a2a;text-align:center;padding-left:0px;letter-spacing:0px;font-family:"Liberation Sans", sans-serif;">Dec 9, 85</div>
<div class="t" style="left:907.10px;top:1904.26px;width:292.10px;height:26.32px;line-height:26.32px;font-size:18.8px;font-weight:normal;font-style:normal;color:#2a2a2a;text-align:left;padding-left:13.5px;letter-spacing:0px;font-family:"Liberation Sans", sans-serif;">Client Street Address 9</div>
<div class="t" style="left:1590.40px;top:1904.19px;width:396.80px;height:26.46px;line-height:26.46px;font-size:18.9px;font-weight:normal;font-style:normal;color:#2a2a2a;text-align:left;padding-left:2.5px;letter-spacing:0px;font-family:"Liberation Sans", sans-serif;">Notes or Additional Info Client 9</div>
<div style="left:95.70px;top:1929.05px;width:1891.50px;height:25.67px;background:#ffffff;"></div>
<div class="t" style="left:95.70px;top:1929.93px;width:163.70px;height:26.32px;line-height:26.32px;font-size:18.8px;font-weight:normal;font-style:normal;color:#2a2a2a;text-align:center;padding-left:0px;letter-spacing:0px;font-family:"Liberation Sans", sans-serif;">Client Name 10</div>
<div class="t" style="left:259.40px;top:1929.93px;width:164.90px;height:26.32px;line-height:26.32px;font-size:18.8px;font-weight:normal;font-style:normal;color:#2a2a2a;text-align:center;padding-left:0px;letter-spacing:0px;font-family:"Liberation Sans", sans-serif;">Number Client 10</div>
<div class="t" style="left:424.30px;top:1929.93px;width:142.90px;height:26.32px;line-height:26.32px;font-size:18.8px;font-weight:normal;font-style:normal;color:#2a2a2a;text-align:center;padding-left:0px;letter-spacing:0px;font-family:"Liberation Sans", sans-serif;">Other Client 10</div>
<div class="t" style="left:567.20px;top:1929.93px;width:236.30px;height:26.32px;line-height:26.32px;font-size:18.8px;font-weight:normal;font-style:normal;color:#2a2a2a;text-align:center;padding-left:0px;letter-spacing:0px;font-family:"Liberation Sans", sans-serif;">Client Email 10</div>
<div class="t" style="left:803.50px;top:1929.93px;width:103.60px;height:26.32px;line-height:26.32px;font-size:18.8px;font-weight:normal;font-style:normal;color:#2a2a2a;text-align:center;padding-left:0px;letter-spacing:0px;font-family:"Liberation Sans", sans-serif;">Dec 10, 85</div>
<div class="t" style="left:907.10px;top:1929.93px;width:292.10px;height:26.32px;line-height:26.32px;font-size:18.8px;font-weight:normal;font-style:normal;color:#2a2a2a;text-align:left;padding-left:13.5px;letter-spacing:0px;font-family:"Liberation Sans", sans-serif;">Client Street Address 10</div>
<div class="t" style="left:1590.40px;top:1929.86px;width:396.80px;height:26.46px;line-height:26.46px;font-size:18.9px;font-weight:normal;font-style:normal;color:#2a2a2a;text-align:left;padding-left:2.5px;letter-spacing:0px;font-family:"Liberation Sans", sans-serif;">Notes or Additional Info Client 10</div>
<div style="left:95.70px;top:1954.73px;width:1891.50px;height:25.67px;background:#ffffff;"></div>
<div class="t" style="left:95.70px;top:1955.60px;width:163.70px;height:26.32px;line-height:26.32px;font-size:18.8px;font-weight:normal;font-style:normal;color:#2a2a2a;text-align:center;padding-left:0px;letter-spacing:0px;font-family:"Liberation Sans", sans-serif;">Client Name 11</div>
<div class="t" style="left:259.40px;top:1955.60px;width:164.90px;height:26.32px;line-height:26.32px;font-size:18.8px;font-weight:normal;font-style:normal;color:#2a2a2a;text-align:center;padding-left:0px;letter-spacing:0px;font-family:"Liberation Sans", sans-serif;">Number Client 11</div>
<div class="t" style="left:424.30px;top:1955.60px;width:142.90px;height:26.32px;line-height:26.32px;font-size:18.8px;font-weight:normal;font-style:normal;color:#2a2a2a;text-align:center;padding-left:0px;letter-spacing:0px;font-family:"Liberation Sans", sans-serif;">Other Client 11</div>
<div class="t" style="left:567.20px;top:1955.60px;width:236.30px;height:26.32px;line-height:26.32px;font-size:18.8px;font-weight:normal;font-style:normal;color:#2a2a2a;text-align:center;padding-left:0px;letter-spacing:0px;font-family:"Liberation Sans", sans-serif;">Client Email 11</div>
<div class="t" style="left:803.50px;top:1955.60px;width:103.60px;height:26.32px;line-height:26.32px;font-size:18.8px;font-weight:normal;font-style:normal;color:#2a2a2a;text-align:center;padding-left:0px;letter-spacing:0px;font-family:"Liberation Sans", sans-serif;">Dec 11, 85</div>
<div class="t" style="left:907.10px;top:1955.60px;width:292.10px;height:26.32px;line-height:26.32px;font-size:18.8px;font-weight:normal;font-style:normal;color:#2a2a2a;text-align:left;padding-left:13.5px;letter-spacing:0px;font-family:"Liberation Sans", sans-serif;">Client Street Address 11</div>
<div class="t" style="left:1590.40px;top:1955.53px;width:396.80px;height:26.46px;line-height:26.46px;font-size:18.9px;font-weight:normal;font-style:normal;color:#2a2a2a;text-align:left;padding-left:2.5px;letter-spacing:0px;font-family:"Liberation Sans", sans-serif;">Notes or Additional Info Client 11</div>
<div style="left:95px;top:1671px;width:1893px;height:2px;background:#b8b8b8"></div>
<div style="left:95px;top:1697px;width:1893px;height:2px;background:#b0b0b0"></div>
<div style="left:95px;top:1723px;width:1893px;height:2px;background:#b0b0b0"></div>
<div style="left:95px;top:1748px;width:1893px;height:2px;background:#b0b0b0"></div>
<div style="left:95px;top:1774px;width:1893px;height:2px;background:#b0b0b0"></div>
<div style="left:95px;top:1800px;width:1893px;height:2px;background:#b0b0b0"></div>
<div style="left:95px;top:1825px;width:1893px;height:2px;background:#b0b0b0"></div>
<div style="left:95px;top:1851px;width:1893px;height:2px;background:#b0b0b0"></div>
<div style="left:95px;top:1877px;width:1893px;height:2px;background:#b0b0b0"></div>
<div style="left:95px;top:1902px;width:1893px;height:2px;background:#b0b0b0"></div>
<div style="left:95px;top:1928px;width:1893px;height:2px;background:#b0b0b0"></div>
<div style="left:95px;top:1954px;width:1893px;height:2px;background:#b0b0b0"></div>
<div style="left:95px;top:1979px;width:1893px;height:2px;background:#b0b0b0"></div>
<div style="left:95px;top:1633px;width:2px;height:40px;background:#b09e8c"></div>
<div style="left:95px;top:1697px;width:2px;height:284px;background:#b0b0b0"></div>
<div style="left:258px;top:1633px;width:2px;height:40px;background:#b09e8c"></div>
<div style="left:258px;top:1697px;width:2px;height:284px;background:#b0b0b0"></div>
<div style="left:423px;top:1633px;width:2px;height:40px;background:#b09e8c"></div>
<div style="left:423px;top:1697px;width:2px;height:284px;background:#b0b0b0"></div>
<div style="left:566px;top:1633px;width:2px;height:40px;background:#b09e8c"></div>
<div style="left:566px;top:1697px;width:2px;height:284px;background:#b0b0b0"></div>
<div style="left:802px;top:1633px;width:2px;height:40px;background:#b09e8c"></div>
<div style="left:802px;top:1697px;width:2px;height:284px;background:#b0b0b0"></div>
<div style="left:906px;top:1633px;width:2px;height:40px;background:#b09e8c"></div>
<div style="left:906px;top:1697px;width:2px;height:284px;background:#b0b0b0"></div>
<div style="left:1198px;top:1633px;width:2px;height:40px;background:#b09e8c"></div>
<div style="left:1198px;top:1697px;width:2px;height:284px;background:#b0b0b0"></div>
<div style="left:1381px;top:1633px;width:2px;height:40px;background:#b09e8c"></div>
<div style="left:1381px;top:1697px;width:2px;height:284px;background:#b0b0b0"></div>
<div style="left:1444px;top:1633px;width:2px;height:40px;background:#b09e8c"></div>
<div style="left:1444px;top:1697px;width:2px;height:284px;background:#b0b0b0"></div>
<div style="left:1589px;top:1633px;width:2px;height:40px;background:#b09e8c"></div>
<div style="left:1589px;top:1697px;width:2px;height:284px;background:#b0b0b0"></div>
<div style="left:1986px;top:1633px;width:2px;height:40px;background:#b09e8c"></div>
<div style="left:1986px;top:1697px;width:2px;height:284px;background:#b0b0b0"></div>
<div style="left:238.9px;top:1675.5px;width:19.5px;height:20px;background:#f6f8fb;border-left:1px solid #8f8f8f;border-right:1px solid #8f8f8f;border-top:1px solid #e4e8ee;border-bottom:2px solid #9aa2ad"></div>
<div style="left:244.6px;top:1682.5px;width:0;height:0;border-left:4.3px solid transparent;border-right:4.3px solid transparent;border-top:4.5px solid #555"></div>
<div style="left:403.8px;top:1675.5px;width:19.5px;height:20px;background:#f6f8fb;border-left:1px solid #8f8f8f;border-right:1px solid #8f8f8f;border-top:1px solid #e4e8ee;border-bottom:2px solid #9aa2ad"></div>
<div style="left:409.5px;top:1682.5px;width:0;height:0;border-left:4.3px solid transparent;border-right:4.3px solid transparent;border-top:4.5px solid #555"></div>
<div style="left:546.7px;top:1675.5px;width:19.5px;height:20px;background:#f6f8fb;border-left:1px solid #8f8f8f;border-right:1px solid #8f8f8f;border-top:1px solid #e4e8ee;border-bottom:2px solid #9aa2ad"></div>
<div style="left:552.4px;top:1682.5px;width:0;height:0;border-left:4.3px solid transparent;border-right:4.3px solid transparent;border-top:4.5px solid #555"></div>
<div style="left:783.0px;top:1675.5px;width:19.5px;height:20px;background:#f6f8fb;border-left:1px solid #8f8f8f;border-right:1px solid #8f8f8f;border-top:1px solid #e4e8ee;border-bottom:2px solid #9aa2ad"></div>
<div style="left:788.7px;top:1682.5px;width:0;height:0;border-left:4.3px solid transparent;border-right:4.3px solid transparent;border-top:4.5px solid #555"></div>
<div style="left:886.6px;top:1675.5px;width:19.5px;height:20px;background:#f6f8fb;border-left:1px solid #8f8f8f;border-right:1px solid #8f8f8f;border-top:1px solid #e4e8ee;border-bottom:2px solid #9aa2ad"></div>
<div style="left:892.3px;top:1682.5px;width:0;height:0;border-left:4.3px solid transparent;border-right:4.3px solid transparent;border-top:4.5px solid #555"></div>
<div style="left:1178.7px;top:1675.5px;width:19.5px;height:20px;background:#f6f8fb;border-left:1px solid #8f8f8f;border-right:1px solid #8f8f8f;border-top:1px solid #e4e8ee;border-bottom:2px solid #9aa2ad"></div>
<div style="left:1184.4px;top:1682.5px;width:0;height:0;border-left:4.3px solid transparent;border-right:4.3px solid transparent;border-top:4.5px solid #555"></div>
<div style="left:1361.3px;top:1675.5px;width:19.5px;height:20px;background:#f6f8fb;border-left:1px solid #8f8f8f;border-right:1px solid #8f8f8f;border-top:1px solid #e4e8ee;border-bottom:2px solid #9aa2ad"></div>
<div style="left:1367.0px;top:1682.5px;width:0;height:0;border-left:4.3px solid transparent;border-right:4.3px solid transparent;border-top:4.5px solid #555"></div>
<div style="left:1424.7px;top:1675.5px;width:19.5px;height:20px;background:#f6f8fb;border-left:1px solid #8f8f8f;border-right:1px solid #8f8f8f;border-top:1px solid #e4e8ee;border-bottom:2px solid #9aa2ad"></div>
<div style="left:1430.4px;top:1682.5px;width:0;height:0;border-left:4.3px solid transparent;border-right:4.3px solid transparent;border-top:4.5px solid #555"></div>
<div style="left:1569.9px;top:1675.5px;width:19.5px;height:20px;background:#f6f8fb;border-left:1px solid #8f8f8f;border-right:1px solid #8f8f8f;border-top:1px solid #e4e8ee;border-bottom:2px solid #9aa2ad"></div>
<div style="left:1575.6px;top:1682.5px;width:0;height:0;border-left:4.3px solid transparent;border-right:4.3px solid transparent;border-top:4.5px solid #555"></div>
<div style="left:1966.7px;top:1675.5px;width:19.5px;height:20px;background:#f6f8fb;border-left:1px solid #8f8f8f;border-right:1px solid #8f8f8f;border-top:1px solid #e4e8ee;border-bottom:2px solid #9aa2ad"></div>
<div style="left:1972.4px;top:1682.5px;width:0;height:0;border-left:4.3px solid transparent;border-right:4.3px solid transparent;border-top:4.5px solid #555"></div>
</body></html>
